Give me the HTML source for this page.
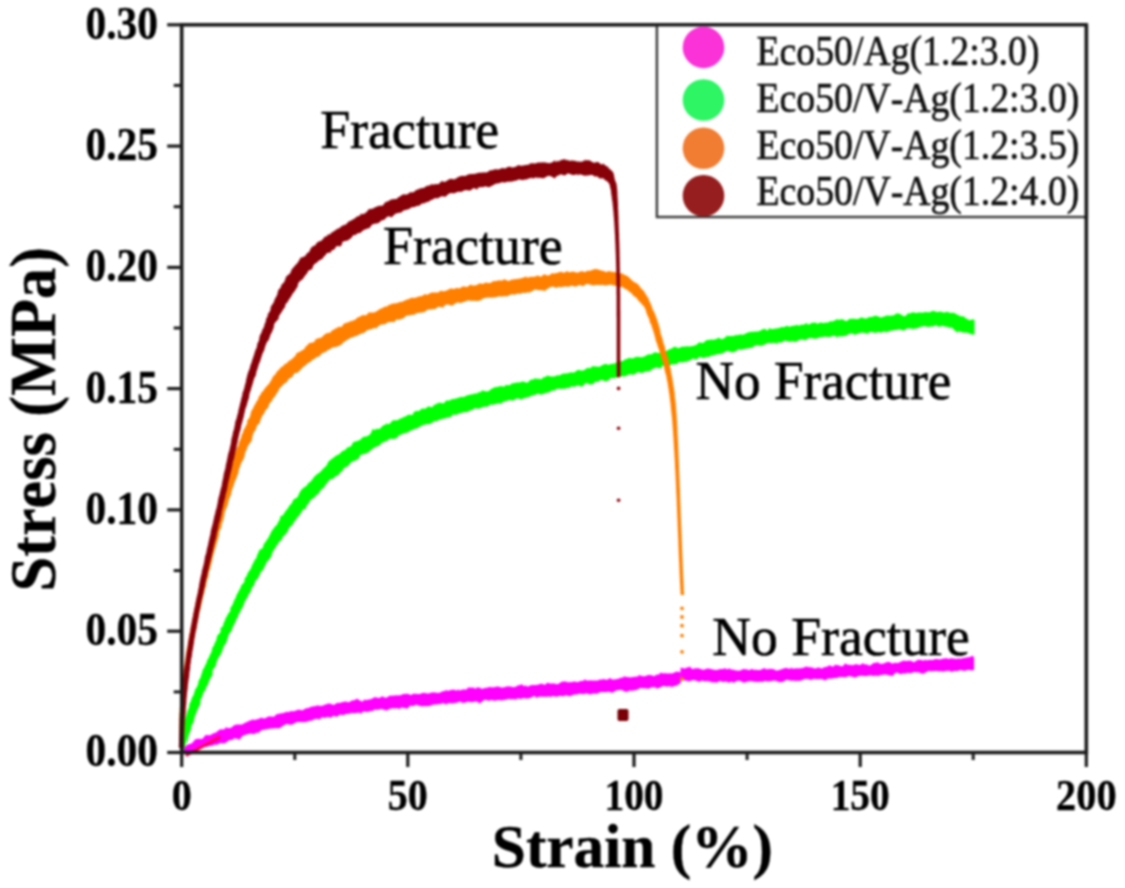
<!DOCTYPE html>
<html><head><meta charset="utf-8"><title>Stress-Strain</title>
<style>html,body{margin:0;padding:0;background:#fff}svg{display:block;font-kerning:none;filter:blur(0.8px)}</style></head>
<body>
<svg width="1125" height="888" viewBox="0 0 1125 888" font-family="'Liberation Serif', 'Times New Roman', serif">
<rect width="1125" height="888" fill="#fff"/>
<polygon points="181.4,749.1 182.2,748.5 183.0,747.9 183.9,747.3 184.8,746.9 185.6,746.3 186.4,745.6 187.2,744.9 188.2,744.5 189.1,744.0 190.1,743.9 191.1,743.7 191.9,743.1 192.8,742.5 193.5,741.5 194.2,740.6 195.0,739.8 195.8,739.1 196.8,738.9 197.9,739.0 198.8,738.4 200.1,739.1 201.2,739.1 202.1,738.7 203.0,738.2 203.8,737.3 204.4,736.3 205.2,735.4 206.2,735.1 207.2,735.0 208.4,735.2 209.5,735.3 210.4,735.0 211.3,734.5 212.2,733.9 213.1,733.6 214.0,733.1 215.0,732.9 215.9,732.4 216.8,731.8 217.7,731.2 218.5,730.6 219.4,729.8 220.2,729.3 221.3,729.4 222.4,729.3 223.4,729.4 224.4,728.9 225.3,728.5 225.8,726.8 227.2,728.0 228.3,728.0 229.4,728.1 230.4,728.0 231.3,727.5 232.2,726.9 233.0,726.1 233.9,725.5 234.8,724.9 235.8,724.7 236.7,724.4 237.8,724.5 238.9,724.5 239.9,724.6 241.0,724.6 242.0,724.6 242.9,723.9 243.8,723.5 244.7,722.9 245.7,722.6 246.6,722.1 247.6,721.8 248.5,721.5 249.2,720.2 250.4,720.7 251.3,720.2 252.2,719.6 253.2,719.5 254.4,720.0 255.5,720.1 256.2,719.1 257.4,719.6 258.3,719.0 259.2,718.5 260.2,718.3 261.0,717.5 262.2,717.9 263.3,718.2 264.4,718.4 265.4,718.1 266.3,717.7 267.2,717.1 268.1,716.7 269.1,716.3 270.1,716.5 271.2,716.4 272.3,716.6 273.3,716.7 274.3,716.4 275.1,715.5 276.0,714.8 276.9,714.3 277.8,713.8 278.9,713.9 279.8,713.6 280.8,713.3 281.8,713.3 282.9,713.2 283.8,712.8 284.7,712.4 285.7,712.2 286.7,711.8 287.7,712.0 288.8,712.0 289.8,711.7 290.6,710.8 291.8,711.5 292.7,711.1 293.8,711.2 294.8,711.1 295.7,710.6 296.7,710.2 297.6,709.9 298.6,709.6 299.6,709.8 300.7,710.1 301.8,710.2 302.8,710.3 303.7,709.6 304.6,708.9 305.6,708.5 306.5,708.3 307.5,708.1 308.5,708.1 309.5,707.5 310.4,707.0 311.4,706.7 312.4,706.6 313.3,706.3 314.4,706.2 315.4,706.1 316.4,705.9 317.2,704.9 318.4,705.7 319.4,705.7 320.4,705.8 321.5,706.0 322.4,705.6 323.4,705.5 324.3,704.8 325.3,704.5 326.3,704.3 327.3,704.1 328.2,703.6 329.2,703.6 330.3,703.7 331.4,704.1 332.5,704.6 333.5,705.0 334.5,704.6 335.4,703.9 336.3,703.3 337.3,702.9 338.3,702.8 339.3,702.9 340.3,702.7 341.3,702.4 342.3,702.1 343.2,701.9 344.2,701.7 345.2,701.5 346.2,701.5 347.3,702.0 348.4,702.2 349.4,702.1 350.3,701.6 351.2,700.7 352.2,700.4 353.2,700.3 354.2,700.2 355.1,699.8 356.1,699.5 357.0,698.2 358.1,699.5 359.2,700.0 360.4,700.8 361.4,701.2 362.5,701.4 363.4,701.1 364.2,699.1 365.3,700.3 366.3,700.0 367.3,699.8 368.3,699.4 369.3,699.5 370.3,699.3 371.3,699.1 372.2,698.5 373.2,698.0 374.1,697.4 375.1,697.1 376.1,697.5 377.2,697.6 378.2,698.1 379.2,698.0 380.2,697.5 381.1,696.7 382.1,696.5 383.1,696.6 384.2,697.2 385.3,697.7 386.3,697.7 387.2,697.1 388.2,696.7 389.1,696.1 390.1,695.6 391.1,695.7 392.1,695.7 393.1,695.4 394.1,695.5 395.1,695.5 396.1,695.3 397.1,695.3 398.1,695.5 399.1,695.3 400.1,695.3 401.1,695.0 402.1,694.4 403.0,694.1 404.1,694.1 405.1,694.0 406.0,693.7 407.0,693.8 408.1,694.1 409.1,694.0 410.2,694.9 411.2,694.9 412.1,694.2 413.1,693.7 414.1,693.7 415.1,693.7 416.1,693.8 417.2,694.0 418.2,694.0 419.2,694.1 420.2,694.0 421.1,693.6 422.1,693.1 423.1,692.9 424.1,692.7 425.1,693.0 426.2,693.3 427.2,693.4 428.2,693.3 429.2,693.4 430.2,693.0 431.1,692.6 432.1,692.4 433.1,692.5 434.1,692.3 435.1,692.6 436.2,692.7 437.2,692.8 438.2,693.0 439.2,692.8 440.2,692.4 441.1,691.9 442.1,691.5 443.1,691.1 444.1,691.2 445.1,691.1 446.0,689.5 447.1,691.0 448.1,690.6 449.1,690.6 450.1,690.6 451.0,689.5 452.0,690.1 453.0,689.7 454.0,689.5 455.0,690.0 456.1,690.4 457.1,690.5 458.0,689.1 459.1,690.4 460.1,690.2 461.1,690.1 462.1,689.7 463.0,689.3 464.0,689.4 465.1,689.6 466.1,689.6 467.1,689.3 467.9,687.1 469.0,687.9 469.9,687.6 470.9,687.4 472.0,687.6 473.0,688.0 473.9,687.3 475.0,688.7 476.0,688.6 476.9,687.2 478.0,687.3 479.0,687.9 480.0,687.3 481.1,688.8 482.1,688.8 483.1,688.6 484.0,688.3 485.0,688.1 486.0,687.7 487.0,687.8 488.0,687.5 489.0,687.1 490.0,687.0 491.0,687.2 492.0,687.3 493.0,687.3 494.0,687.3 495.0,687.0 496.0,686.7 497.0,686.5 498.0,686.6 499.0,686.8 500.0,687.0 501.0,687.4 502.1,687.6 503.0,687.4 504.0,687.2 505.0,687.1 506.0,686.8 507.0,686.3 508.0,686.4 509.0,686.2 510.0,686.5 511.0,686.5 512.0,687.0 513.1,687.1 514.1,687.3 515.0,686.8 516.0,686.5 517.0,686.3 517.9,685.0 519.0,685.5 519.9,684.9 520.9,684.7 521.9,683.9 523.0,685.4 524.0,686.1 525.0,685.8 526.0,685.2 527.1,686.6 528.0,686.5 529.0,686.0 530.0,685.5 531.0,685.3 532.0,685.0 533.0,685.0 534.0,685.1 535.0,685.1 536.0,685.0 537.0,684.9 537.9,684.5 538.9,684.4 539.9,684.1 540.9,683.8 541.9,683.8 542.9,684.0 544.0,684.6 545.0,684.7 545.9,684.3 546.8,682.7 547.9,683.0 548.9,683.1 549.9,683.4 550.9,683.7 551.9,683.3 552.9,683.5 553.9,683.5 554.9,683.6 555.9,683.9 556.9,684.2 557.9,684.0 558.9,683.6 559.9,683.1 560.8,682.2 561.8,681.7 562.8,681.5 563.8,681.5 564.8,681.5 565.8,681.5 566.8,681.7 567.8,682.2 568.8,682.5 569.8,681.4 570.8,682.5 571.8,682.0 572.8,681.8 573.8,681.6 574.8,681.6 575.8,681.8 576.8,682.1 577.8,681.9 578.8,681.8 579.8,681.2 580.8,681.0 581.7,680.7 582.7,680.9 583.7,680.7 584.6,679.1 585.7,680.2 586.7,680.4 587.7,680.5 588.7,680.4 589.7,680.5 590.7,680.3 591.7,680.4 592.7,680.6 593.7,680.6 594.7,680.6 595.7,680.5 596.7,680.6 597.7,680.4 598.7,680.3 599.6,679.2 600.7,679.8 601.7,679.5 602.7,679.5 603.6,678.7 604.7,679.6 605.7,679.7 606.6,679.4 607.6,679.4 608.6,679.2 609.5,678.1 610.6,678.3 611.7,679.5 612.6,679.2 613.7,679.4 614.7,679.6 615.7,679.3 616.6,679.1 617.6,678.9 618.6,678.6 619.6,678.2 620.5,678.0 621.5,677.5 622.5,677.4 623.5,677.5 624.3,675.8 625.5,677.1 626.5,677.0 627.5,677.0 628.5,677.1 629.5,677.4 630.5,677.3 631.5,677.3 632.5,677.1 633.5,677.0 634.4,676.8 635.4,676.8 636.4,676.6 637.4,676.5 638.4,676.3 639.2,674.6 640.3,675.7 641.3,675.7 642.4,675.9 643.4,676.3 644.4,676.3 645.4,676.0 646.4,675.7 647.3,675.2 648.3,675.0 649.3,675.0 650.3,675.0 651.3,675.2 652.4,675.6 653.4,675.9 654.4,675.9 655.3,675.4 656.3,674.8 657.2,674.5 658.2,674.4 659.2,674.5 660.1,673.1 661.0,672.4 662.1,673.3 663.1,673.3 664.1,673.4 665.1,672.8 666.1,673.4 667.1,673.4 668.1,673.2 669.1,673.4 670.1,673.3 671.2,673.4 672.1,673.3 673.1,673.3 674.1,672.6 675.1,672.2 676.1,671.7 677.2,671.6 678.4,671.9 679.6,672.0 680.8,672.0 680.8,683.5 680.0,683.6 679.1,683.8 678.3,684.3 677.5,685.8 676.5,685.3 675.6,685.7 674.7,686.0 673.7,686.2 672.7,686.3 671.8,687.7 670.7,686.3 669.6,686.2 668.6,686.2 667.7,686.6 666.6,686.5 665.6,686.5 664.6,686.0 663.5,685.9 662.6,686.1 661.6,686.8 660.7,687.2 659.7,687.5 658.7,687.9 657.7,688.1 656.8,688.9 655.6,687.5 654.6,686.8 653.6,687.8 652.5,686.9 651.6,687.3 650.6,687.8 649.7,688.3 648.7,688.5 647.7,688.7 646.6,688.4 645.6,688.2 644.6,688.2 643.6,688.2 642.6,688.2 641.6,688.0 640.5,687.9 639.6,688.3 638.6,688.9 637.7,689.4 636.7,689.8 635.7,690.1 634.7,690.4 633.7,690.3 632.7,690.3 631.8,691.5 630.7,690.3 629.7,690.6 628.8,691.1 627.8,691.5 626.8,691.8 625.8,691.8 624.8,691.6 623.7,691.0 622.6,690.4 621.6,690.0 620.6,689.7 619.6,689.9 618.6,690.1 617.6,690.3 616.6,690.5 615.6,690.8 614.7,691.2 613.7,691.9 612.8,692.5 611.8,692.7 610.7,692.3 609.7,691.9 608.7,691.8 607.7,691.8 606.7,692.0 605.7,692.2 604.7,692.0 603.7,692.1 602.7,692.3 601.7,692.1 600.7,692.1 599.7,692.4 598.7,692.8 597.8,693.5 596.8,693.8 595.8,693.6 594.8,693.7 593.7,693.4 592.7,693.5 591.8,693.9 590.8,694.2 589.8,694.3 588.8,694.2 587.7,693.6 586.7,693.5 585.7,693.4 584.7,693.8 583.7,694.1 582.7,694.2 581.7,693.7 580.7,693.7 579.7,693.7 578.7,693.8 577.7,694.2 576.7,694.5 575.7,694.6 574.7,694.6 573.7,694.8 572.7,694.9 571.8,695.4 570.8,695.8 569.8,696.2 568.8,696.0 567.8,695.7 566.8,695.4 565.7,695.3 564.8,695.7 563.8,696.1 562.8,696.3 561.8,696.0 560.8,695.9 559.8,695.7 558.8,696.1 557.8,696.5 556.8,696.7 555.8,696.3 554.8,696.9 553.8,696.1 552.8,696.1 551.8,696.3 550.8,697.4 549.8,696.2 548.8,696.6 547.8,696.7 546.8,696.8 545.8,696.8 544.8,696.8 543.8,696.8 542.8,696.8 541.8,696.7 540.8,696.6 539.8,696.8 538.8,696.9 537.8,696.8 536.8,697.9 535.8,697.6 534.7,695.9 533.7,696.1 532.8,696.9 531.8,696.9 530.8,697.7 529.8,698.0 528.8,698.3 527.8,698.5 526.9,698.6 525.8,698.4 524.8,698.3 523.8,698.1 522.8,698.3 521.8,698.5 520.9,698.9 519.8,698.7 518.8,698.4 517.8,698.5 516.8,698.5 515.9,699.9 514.9,699.3 513.9,699.3 512.9,699.1 511.9,699.2 510.9,699.7 509.8,698.8 508.8,699.1 507.9,699.2 506.9,699.3 505.9,699.7 504.9,699.8 503.9,700.0 502.9,700.2 501.9,700.2 500.9,700.2 499.9,700.2 498.9,700.0 497.9,699.9 496.9,700.2 495.9,700.6 494.9,700.8 493.9,700.6 492.9,700.4 491.9,700.0 490.9,700.0 489.9,700.4 488.9,700.7 487.9,700.4 486.9,700.2 485.9,699.8 484.9,699.7 483.9,700.2 482.9,701.0 482.0,701.7 481.0,702.2 480.1,703.5 479.1,703.5 478.0,702.1 477.0,701.8 476.0,701.4 475.0,701.5 474.0,701.8 473.0,702.0 472.0,702.1 471.0,702.2 470.0,701.9 469.0,701.7 468.0,701.8 467.0,701.7 466.0,702.2 465.1,702.7 464.1,702.8 463.0,702.6 462.1,703.6 461.0,701.7 460.0,701.5 459.0,701.9 458.0,702.3 457.0,702.8 456.0,702.8 455.1,703.0 454.1,703.2 453.1,703.3 452.1,703.5 451.1,703.5 450.1,703.0 449.1,702.9 448.1,703.8 447.1,703.2 446.2,704.8 445.1,704.0 444.1,703.6 443.1,703.3 442.1,703.1 441.2,704.6 440.1,703.6 439.1,704.2 438.1,704.2 437.2,704.3 436.2,704.4 435.2,704.6 434.2,704.5 433.2,704.7 432.2,705.1 431.2,705.3 430.3,705.7 429.3,705.9 428.3,706.0 427.3,706.0 426.3,706.2 425.3,706.3 424.3,706.1 423.3,706.1 422.3,706.4 421.3,706.2 420.3,706.0 419.3,705.6 418.3,706.0 417.2,704.8 416.2,704.8 415.2,705.2 414.2,705.6 413.3,706.0 412.3,705.9 411.3,705.8 410.3,705.8 409.3,706.6 408.4,707.5 407.5,708.4 406.5,708.7 405.5,708.1 404.4,707.7 403.5,708.5 402.4,707.2 401.4,707.4 400.4,707.9 399.6,709.4 398.5,708.3 397.5,708.4 396.5,708.3 395.4,707.9 394.5,708.9 393.5,708.1 392.5,708.2 391.5,708.5 390.5,708.7 389.5,708.8 388.6,709.5 387.7,710.1 386.7,710.4 385.7,710.2 384.6,709.7 383.6,709.9 382.5,709.1 381.5,709.1 380.5,709.1 379.6,709.4 378.6,709.6 377.6,709.7 376.6,709.8 375.6,709.8 374.6,709.6 373.6,709.9 372.8,711.6 371.7,710.7 370.7,711.0 369.8,711.4 368.8,711.6 367.8,711.8 366.8,712.0 365.8,711.8 364.8,711.5 363.8,711.6 362.8,712.0 361.9,712.3 361.1,714.3 359.9,712.8 358.9,712.8 357.9,712.7 357.0,713.0 355.9,712.9 355.0,713.2 354.0,713.2 353.0,713.2 351.9,712.9 351.0,713.3 350.0,713.5 349.0,713.8 348.0,713.8 347.0,713.9 346.0,713.9 345.1,714.3 344.2,714.8 343.2,715.2 342.2,715.1 341.1,714.8 340.1,714.8 339.2,715.0 338.3,715.7 337.4,716.5 336.4,716.7 335.3,716.4 334.3,716.1 333.2,715.8 332.4,716.7 331.4,716.9 330.6,717.9 329.5,717.3 328.4,717.3 327.4,717.0 326.4,717.3 325.5,717.7 324.5,717.7 323.5,717.5 322.4,717.4 321.4,717.3 320.7,719.3 319.6,718.4 318.9,720.1 317.6,718.8 316.6,718.8 315.6,718.9 314.7,719.3 313.7,719.5 312.8,719.8 311.9,720.9 310.8,720.4 309.9,720.7 309.0,721.1 308.0,721.4 307.0,721.4 306.1,721.8 305.1,722.3 304.1,721.9 303.1,722.0 302.1,722.3 301.1,722.1 300.1,722.1 299.0,722.0 298.0,722.1 297.0,721.9 296.1,722.4 295.1,722.9 294.2,723.3 293.3,723.9 292.4,724.4 291.5,724.6 290.5,724.7 289.5,724.7 288.3,724.3 287.3,724.1 286.3,724.1 285.4,724.7 284.4,725.0 283.5,725.6 282.7,726.1 281.8,726.8 280.9,727.3 280.0,728.0 279.1,728.2 278.1,728.3 277.0,728.2 276.0,728.2 275.0,728.2 274.0,728.2 273.0,728.4 272.0,728.5 271.0,728.6 270.0,728.8 269.0,728.8 268.0,729.0 267.1,729.2 266.1,729.4 265.1,729.5 264.1,729.7 263.1,729.8 262.2,730.0 261.2,730.4 260.4,730.9 259.5,731.8 258.8,732.9 257.8,732.7 256.8,732.8 255.8,733.1 254.9,733.7 254.0,734.1 252.9,733.9 251.9,733.7 250.8,733.6 249.8,733.7 248.8,733.9 247.9,734.1 246.9,734.4 246.0,734.7 245.0,735.1 244.1,735.3 243.2,735.7 242.3,736.1 241.5,737.2 240.8,738.1 240.0,738.9 239.4,740.3 238.0,739.0 236.8,738.5 235.9,739.0 234.6,738.1 233.7,738.7 232.9,739.4 232.0,739.9 231.0,740.0 230.0,740.0 229.0,740.3 228.2,740.9 227.4,741.6 226.5,742.2 225.7,742.8 224.8,743.2 223.8,743.3 222.8,743.4 221.7,743.2 220.6,743.1 219.6,743.3 218.8,744.0 217.8,744.3 217.0,744.8 215.9,744.8 214.9,744.7 213.9,744.8 213.0,745.5 212.1,745.7 211.0,745.8 210.0,745.9 209.0,746.1 208.1,746.3 207.2,746.8 206.2,747.0 205.1,746.8 204.0,746.8 203.0,746.9 202.0,747.0 201.1,747.5 200.3,748.2 199.5,748.9 198.8,749.7 197.9,750.1 197.1,750.9 195.8,750.3 194.9,750.6 193.9,750.8 192.9,750.9 191.8,751.1 190.9,751.3 189.9,751.6 188.9,751.8 188.2,752.6 187.0,752.2 186.0,752.5 185.0,752.7 184.0,752.8 182.9,752.9" fill="#ff00ff"/>
<polygon points="680.5,667.7 681.6,667.8 682.6,668.1 683.7,668.2 684.7,668.4 685.8,668.2 686.8,667.6 687.8,667.3 688.8,667.4 689.9,666.2 690.8,667.7 691.8,668.4 692.7,669.0 693.7,669.3 694.8,667.6 695.7,668.7 696.7,668.3 697.7,668.1 698.7,668.3 699.7,668.7 700.7,669.0 701.7,669.2 702.6,669.7 703.6,669.7 704.6,669.4 705.6,668.9 706.6,668.7 707.6,668.4 708.6,668.5 709.6,668.7 710.6,669.0 711.6,669.0 712.6,669.4 713.6,669.8 714.6,669.7 715.6,669.9 716.5,669.9 717.5,669.8 718.5,669.4 719.5,669.3 720.5,669.1 721.5,668.9 722.5,668.9 723.5,669.0 724.5,668.2 725.5,668.3 726.5,669.4 727.5,669.0 728.5,668.9 729.5,668.1 730.5,669.4 731.5,669.4 732.5,669.5 733.4,669.7 734.4,670.1 735.4,670.3 736.4,670.5 737.4,670.5 738.4,670.7 739.4,670.6 740.4,670.6 741.4,669.9 742.4,669.3 743.4,669.1 744.4,669.2 745.4,669.2 746.4,669.3 747.4,669.5 748.4,670.0 749.4,670.3 750.4,669.4 751.3,669.1 752.3,669.0 753.3,669.7 754.3,669.8 755.3,669.8 756.3,669.7 757.3,670.1 758.3,670.1 759.3,670.0 760.3,670.1 761.3,669.6 762.3,668.9 763.3,668.6 764.3,668.3 765.3,668.6 766.3,669.2 767.3,669.4 768.2,668.5 769.3,669.5 770.2,668.4 771.2,669.1 772.2,669.1 773.2,669.1 774.2,669.4 775.3,669.9 776.3,670.4 777.3,670.6 778.3,670.3 779.2,669.9 780.2,669.8 781.2,669.2 782.2,669.0 783.2,668.7 784.2,668.3 785.2,667.9 786.2,668.1 787.2,668.1 788.2,668.5 789.2,668.7 790.2,668.7 791.1,667.2 792.2,668.7 793.1,668.5 794.1,668.4 795.1,668.5 796.1,668.2 797.1,668.2 798.1,668.4 799.1,668.2 800.1,668.2 801.1,668.3 802.1,667.9 803.1,667.8 804.1,667.6 805.1,667.0 806.0,666.6 807.0,666.7 808.0,667.1 809.1,667.5 810.0,666.7 811.1,667.5 812.1,667.4 813.1,667.7 814.1,668.3 815.1,668.5 816.1,668.2 817.1,667.8 818.1,667.6 819.1,667.6 820.1,668.0 821.1,668.3 822.1,668.4 823.1,667.8 824.0,667.3 825.0,667.0 826.0,666.9 827.0,666.5 828.0,666.2 828.9,665.6 829.9,665.4 831.0,665.8 832.0,666.4 833.0,666.5 834.0,666.2 834.9,664.3 835.9,665.3 836.9,665.1 837.9,665.1 838.9,665.4 839.9,665.7 841.0,666.3 842.0,666.3 843.0,665.9 843.9,665.0 844.8,663.2 845.8,664.0 846.9,664.2 847.9,664.4 848.9,664.9 849.9,665.1 850.9,664.5 851.9,665.4 852.9,665.0 853.9,664.7 854.9,664.5 855.9,664.2 856.8,663.9 857.9,664.8 858.9,664.8 859.9,664.9 860.9,664.6 861.8,663.9 862.8,663.0 863.9,663.9 864.9,664.2 865.9,664.6 866.9,664.3 867.9,665.1 869.0,665.4 870.0,665.4 870.9,664.9 871.9,664.2 872.8,663.6 873.8,663.1 874.8,662.8 875.8,662.8 876.8,662.8 877.7,661.7 878.8,663.2 879.9,663.5 880.9,663.8 881.9,663.9 882.9,663.6 883.9,663.4 884.8,663.0 885.8,662.5 886.8,662.3 887.8,662.0 888.8,661.9 889.8,662.1 890.8,662.9 891.9,663.3 892.9,663.4 893.9,663.1 894.8,662.7 895.8,662.7 896.9,662.9 897.9,662.9 898.8,662.5 899.8,662.3 900.8,661.7 901.8,661.3 902.7,661.0 903.7,660.4 904.7,660.8 905.8,661.1 906.8,661.0 907.7,660.7 908.7,660.8 909.7,660.6 910.8,660.9 911.8,660.8 912.8,661.9 913.8,662.0 914.8,662.0 915.8,660.4 916.8,661.2 917.7,659.3 918.7,660.1 919.7,659.8 920.7,659.9 921.7,660.1 922.8,660.6 923.8,660.8 924.7,659.5 925.8,660.0 926.8,660.4 927.8,660.0 928.8,659.8 929.8,659.9 930.8,659.7 931.8,660.1 932.8,659.9 933.8,659.5 934.8,659.3 935.7,659.1 936.7,658.9 937.8,659.2 938.8,659.3 939.8,659.4 940.8,659.2 941.8,659.0 942.7,658.7 943.7,658.4 944.7,658.4 945.7,658.2 946.7,658.2 947.8,658.5 948.8,659.1 949.8,658.9 950.7,657.7 951.8,658.4 952.8,658.6 953.8,658.8 954.8,658.2 955.8,659.3 956.8,658.8 957.8,658.4 958.8,658.4 959.8,658.4 960.8,658.7 961.8,658.6 962.8,657.9 963.8,658.0 964.8,657.9 965.8,657.5 966.8,657.4 967.8,657.2 968.8,657.2 969.8,656.9 970.9,656.7 971.9,655.4 973.0,656.4 974.1,656.7 974.1,669.8 973.1,670.1 972.2,670.2 971.3,670.4 970.3,670.1 969.3,670.1 968.3,669.7 967.4,670.0 966.4,670.3 965.4,670.7 964.4,670.7 963.4,670.7 962.4,670.4 961.4,670.3 960.4,670.1 959.4,670.3 958.4,670.4 957.5,671.6 956.4,670.8 955.4,671.1 954.4,670.9 953.4,671.2 952.4,671.2 951.5,672.3 950.4,671.2 949.4,670.8 948.4,670.4 947.5,671.6 946.4,670.4 945.4,671.1 944.5,671.6 943.5,671.5 942.5,671.5 941.5,671.3 940.5,671.2 939.5,671.2 938.5,671.4 937.4,671.1 936.4,670.9 935.4,670.9 934.5,671.1 933.5,671.2 932.5,671.2 931.4,671.0 930.5,671.7 929.4,670.8 928.5,671.1 927.5,671.4 926.5,672.0 925.5,672.6 924.6,673.2 923.6,673.5 922.6,673.8 921.6,673.5 920.6,673.2 919.5,672.7 918.5,672.3 917.5,672.0 916.6,672.8 915.5,672.0 914.5,672.1 913.5,672.2 912.5,672.6 911.6,672.9 910.6,673.3 909.6,673.2 908.5,672.9 907.5,672.8 906.6,673.0 905.6,674.0 904.6,673.3 903.6,673.6 902.6,673.6 901.6,674.1 900.6,674.1 899.6,673.9 898.6,673.3 897.5,672.8 896.5,672.6 895.5,673.0 894.6,673.8 893.6,674.7 892.7,676.0 891.7,675.8 890.7,675.8 889.7,675.5 888.7,675.3 887.6,674.9 886.6,674.8 885.6,674.5 884.6,674.6 883.6,674.8 882.6,674.8 881.6,674.9 880.7,675.2 879.7,675.2 878.7,675.4 877.7,676.4 876.7,675.5 875.7,675.6 874.7,675.8 873.7,675.9 872.7,675.7 871.7,675.5 870.6,675.5 869.6,675.4 868.6,675.5 867.7,675.7 866.7,675.9 865.7,676.1 864.7,675.9 863.7,675.9 862.6,675.8 861.6,675.7 860.6,675.8 859.6,675.9 858.6,675.8 857.7,676.5 856.7,676.9 855.7,677.0 854.8,678.1 853.7,677.0 852.7,676.9 851.7,676.6 850.6,676.4 849.6,676.0 848.6,676.0 847.6,676.4 846.7,677.0 845.7,677.3 844.7,677.2 843.7,677.3 842.7,677.1 841.7,677.1 840.7,677.2 839.7,677.1 838.7,677.3 837.7,677.6 836.7,678.1 835.7,678.1 834.7,678.1 833.7,678.1 832.7,678.4 831.7,678.6 830.7,678.8 829.7,678.5 828.7,678.5 827.7,678.8 826.7,679.4 825.8,680.1 824.8,680.4 823.8,679.8 822.7,679.5 821.7,678.9 820.7,678.9 819.7,679.1 818.7,679.3 817.7,679.2 816.7,679.0 815.7,679.5 814.6,678.4 813.7,679.3 812.7,679.1 811.7,679.7 810.7,679.9 809.7,679.6 808.7,679.3 807.7,679.1 806.6,679.0 805.6,678.9 804.6,679.1 803.6,679.2 802.7,679.9 801.7,680.3 800.7,680.5 799.7,680.7 798.7,680.9 797.7,680.7 796.7,680.5 795.7,681.6 794.7,680.4 793.7,680.5 792.7,680.7 791.7,680.8 790.7,680.6 789.6,680.4 788.6,680.2 787.6,679.8 786.6,679.7 785.6,680.3 784.6,680.7 783.7,681.4 782.7,681.8 781.7,682.0 780.7,682.1 779.7,682.2 778.6,681.7 777.6,681.6 776.6,681.3 775.6,680.8 774.6,680.6 773.6,680.8 772.6,680.8 771.6,681.0 770.6,681.3 769.6,681.3 768.6,681.5 767.6,681.6 766.6,681.3 765.6,681.0 764.6,681.1 763.6,681.4 762.6,681.7 761.6,681.7 760.5,681.7 759.5,681.7 758.5,681.8 757.5,681.9 756.5,681.8 755.5,681.7 754.5,681.7 753.5,681.6 752.5,681.4 751.5,681.3 750.5,681.0 749.5,681.2 748.5,681.4 747.5,681.5 746.5,681.8 745.5,682.3 744.5,682.5 743.5,682.4 742.5,682.2 741.4,681.4 740.4,680.9 739.4,680.7 738.4,680.7 737.4,680.7 736.4,681.2 735.4,681.7 734.4,682.0 733.4,683.2 732.4,681.8 731.4,681.8 730.4,682.1 729.4,682.6 728.4,682.6 727.4,682.2 726.4,681.5 725.4,681.5 724.3,681.7 723.3,681.9 722.3,681.8 721.3,681.4 720.3,681.1 719.3,681.1 718.3,681.9 717.3,682.2 716.3,682.5 715.3,682.5 714.3,682.2 713.3,682.2 712.3,682.3 711.2,682.5 710.3,681.4 709.3,681.1 708.2,682.0 707.3,680.7 706.2,681.2 705.2,681.3 704.2,681.3 703.2,681.0 702.2,680.6 701.2,680.8 700.2,681.4 699.2,681.8 698.2,681.7 697.2,681.1 696.2,680.8 695.2,680.4 694.2,680.1 693.2,680.1 692.2,680.4 691.2,680.4 690.1,681.0 689.1,681.4 688.1,681.2 687.1,680.7 686.1,680.4 685.1,681.0 684.2,679.5 683.3,679.3 682.3,679.3 681.4,679.3 680.5,679.5" fill="#ff00ff"/>
<line x1="187" y1="755" x2="219" y2="737.5" stroke="#ff0055" stroke-width="3" stroke-linecap="round"/>
<polygon points="180.9,750.3 180.9,749.2 180.9,748.2 180.9,747.2 180.9,746.2 180.9,745.1 180.9,744.1 181.0,743.1 181.0,742.1 181.1,741.1 181.1,740.0 181.2,739.0 181.3,738.0 181.4,737.0 181.7,736.0 181.6,734.9 182.3,734.1 182.4,733.1 182.6,732.0 182.6,731.0 182.7,730.0 182.9,729.0 182.9,727.9 183.4,727.0 183.7,726.0 183.8,725.0 184.0,724.0 184.2,723.0 184.0,721.9 184.6,721.0 184.9,720.1 185.0,719.0 185.4,718.1 185.5,717.1 185.9,716.1 186.3,715.2 186.6,714.2 186.9,713.2 187.2,712.3 187.4,711.3 187.7,710.3 188.2,709.4 188.6,708.5 189.0,707.5 189.2,706.5 189.4,705.5 189.1,704.3 189.9,703.6 190.2,702.6 190.6,701.7 191.0,700.7 191.3,699.8 191.6,698.8 192.0,697.9 192.3,696.9 192.9,696.1 193.5,695.2 193.8,694.2 194.1,693.3 194.3,692.2 194.6,691.3 195.0,690.4 195.1,689.3 196.0,688.6 196.5,687.7 196.9,686.8 197.3,685.9 197.8,685.0 198.0,684.0 198.3,683.0 198.4,682.0 198.6,681.0 199.0,680.0 199.6,679.2 200.1,678.3 200.5,677.4 200.8,676.4 201.0,675.4 201.4,674.5 201.8,673.6 202.1,672.6 202.3,671.6 202.5,670.6 202.9,669.7 203.4,668.8 204.0,668.0 204.5,667.1 205.0,666.2 204.9,665.1 205.8,664.4 206.2,663.4 206.6,662.5 206.8,661.5 207.1,660.6 207.5,659.6 208.1,658.8 208.7,658.0 209.1,657.0 209.4,656.1 209.7,655.1 210.3,654.3 210.7,653.4 211.2,652.5 211.5,651.6 211.9,650.6 212.1,649.6 212.0,648.5 212.5,647.6 213.0,646.7 213.7,645.9 214.1,645.0 214.4,644.1 214.7,643.1 215.2,642.2 215.7,641.3 216.1,640.5 216.4,639.5 216.6,638.4 216.8,637.4 217.0,636.5 217.4,635.5 218.0,634.7 218.8,634.0 219.6,633.2 220.2,632.4 220.5,631.4 220.6,630.4 220.6,629.3 220.4,628.1 221.5,627.5 222.3,626.7 222.9,625.9 223.3,625.0 223.4,623.9 223.6,622.9 224.1,622.0 224.6,621.2 225.0,620.2 225.3,619.3 225.6,618.3 226.1,617.4 226.7,616.6 227.2,615.7 227.6,614.8 228.0,613.9 228.6,613.0 229.3,612.3 230.0,611.5 230.3,610.5 230.5,609.5 229.9,608.1 230.9,607.4 231.4,606.6 231.9,605.7 232.4,604.8 232.8,603.9 233.3,603.0 233.6,602.0 233.7,601.0 234.3,600.2 234.7,599.3 235.3,598.4 235.8,597.6 236.0,596.5 236.4,595.6 236.7,594.6 237.2,593.7 237.8,592.9 238.3,592.0 238.6,591.1 239.1,590.2 239.7,589.4 240.1,588.5 240.6,587.6 240.9,586.6 241.2,585.6 241.8,584.8 242.5,584.0 243.4,583.3 243.9,582.5 244.4,581.6 244.5,580.5 244.5,579.4 244.8,578.4 245.4,577.6 246.1,576.8 246.7,576.0 247.1,575.1 247.3,574.0 247.7,573.1 248.2,572.2 248.8,571.4 249.4,570.6 250.0,569.8 250.5,568.9 251.1,568.0 251.4,567.1 251.8,566.1 252.1,565.1 252.5,564.2 253.1,563.4 253.6,562.5 253.7,561.4 254.5,560.7 254.7,559.7 255.6,559.0 256.2,558.2 256.6,557.2 256.8,556.2 257.1,555.2 257.4,554.2 258.0,553.4 258.6,552.5 258.4,551.3 259.5,550.7 259.4,549.5 261.1,549.3 261.9,548.6 262.6,547.9 263.1,547.0 263.3,546.0 263.5,544.9 263.9,543.9 264.5,543.1 265.2,542.4 265.8,541.5 266.3,540.7 266.9,539.8 267.3,538.9 268.1,538.2 268.8,537.5 268.7,536.2 269.6,535.6 270.0,534.6 270.4,533.7 270.8,532.7 271.2,531.8 271.7,530.9 272.4,530.1 273.0,529.3 273.7,528.6 274.2,527.7 274.7,526.8 275.5,526.1 276.3,525.5 277.0,524.7 277.4,523.7 277.8,522.8 278.3,521.9 278.8,521.0 279.4,520.2 279.8,519.2 280.1,518.2 280.2,517.0 280.5,515.9 282.0,515.8 282.9,515.2 283.5,514.4 284.0,513.5 284.6,512.6 285.1,511.8 285.7,510.9 286.3,510.1 287.1,509.4 287.6,508.5 288.3,507.8 288.7,506.8 289.3,506.0 289.8,505.1 290.7,504.5 291.3,503.7 292.0,502.9 292.3,501.9 292.7,500.9 293.3,500.1 293.9,499.3 294.8,498.7 295.8,498.2 296.8,497.7 297.5,497.0 298.1,496.1 298.5,495.1 298.9,494.1 299.3,493.2 299.8,492.2 300.4,491.3 300.9,490.5 301.5,489.6 302.3,489.0 303.0,488.2 303.8,487.6 304.8,487.0 305.6,486.4 306.4,485.7 307.2,485.1 307.8,484.2 307.9,483.0 309.3,482.8 309.9,482.1 310.7,481.4 311.4,480.6 312.0,479.7 312.7,479.0 313.2,478.1 313.8,477.3 314.6,476.6 315.3,475.8 315.9,475.0 316.8,474.4 317.6,473.8 318.4,473.2 319.4,472.7 320.2,472.0 320.9,471.3 321.6,470.6 322.2,469.7 322.8,468.9 323.6,468.2 324.5,467.6 325.3,467.0 325.7,466.0 326.7,465.6 327.1,464.5 327.5,463.3 328.0,462.4 328.6,461.5 329.4,460.8 330.2,460.2 331.0,459.4 331.8,458.8 332.6,458.2 333.5,457.7 334.3,457.0 335.1,456.3 336.0,455.7 336.8,455.2 337.8,454.8 338.8,454.4 339.7,453.8 340.3,452.9 341.2,452.3 341.8,451.5 342.7,451.0 343.8,450.6 344.8,450.3 345.5,449.6 346.5,449.1 346.6,447.4 347.9,447.6 348.8,447.1 349.8,446.7 350.7,446.2 351.6,445.6 352.0,444.4 352.5,443.3 353.2,442.5 354.0,441.8 355.1,441.6 356.2,441.4 357.2,441.0 358.1,440.6 359.2,440.4 360.0,439.8 360.9,439.2 361.6,438.3 362.3,437.5 363.2,437.0 364.3,436.8 365.3,436.5 366.4,436.4 367.4,436.1 368.3,435.6 369.2,435.1 370.0,434.4 370.6,433.4 371.2,432.3 371.8,431.4 372.0,429.7 372.9,429.1 374.6,430.1 375.6,429.7 376.1,428.5 377.6,429.1 378.7,429.0 379.7,428.8 380.5,428.1 381.3,427.3 382.0,426.5 382.8,425.7 383.6,425.0 384.6,424.9 385.7,424.7 386.1,423.1 387.8,424.3 388.8,424.0 389.7,423.5 390.5,422.9 391.3,422.1 391.9,421.1 392.7,420.4 393.8,420.2 395.0,420.3 396.1,420.3 397.2,420.3 398.1,419.8 399.0,419.4 399.7,418.4 400.9,418.6 401.8,418.1 402.7,417.6 403.6,417.2 404.5,416.6 405.6,416.5 406.4,415.9 407.3,415.3 408.1,414.7 409.2,414.8 410.3,414.7 411.5,415.0 412.5,414.8 413.3,414.0 413.5,411.7 414.7,411.9 415.5,411.2 416.4,410.5 417.7,411.3 418.7,411.1 419.6,410.4 420.4,409.7 421.2,409.0 422.1,408.5 423.2,408.6 424.4,408.7 425.4,408.5 426.3,408.1 427.1,407.3 427.9,406.5 429.0,406.4 430.2,406.8 431.4,407.3 432.4,407.0 433.2,406.4 433.6,404.4 434.9,405.0 435.8,404.4 436.5,403.3 437.7,403.6 438.6,403.3 439.4,402.2 440.6,402.9 441.8,403.1 442.9,403.4 443.9,403.1 444.7,402.4 445.4,401.3 446.3,400.6 447.3,400.6 448.4,400.6 449.4,400.5 450.4,400.1 451.2,399.5 452.2,399.1 453.3,399.1 454.3,398.9 455.2,398.6 456.2,398.5 457.2,398.1 458.1,397.8 459.1,397.4 460.1,397.2 461.0,396.7 462.1,396.9 463.2,397.1 464.2,396.8 465.1,396.3 466.0,396.1 466.9,395.4 467.8,395.0 468.9,395.0 470.0,395.1 470.7,393.9 471.9,394.5 472.9,394.2 473.8,393.8 474.8,393.5 475.8,393.5 476.9,393.5 477.8,393.3 478.5,391.7 479.7,392.4 480.6,391.9 481.5,391.3 482.2,389.9 483.5,391.1 484.6,391.1 485.6,391.2 486.7,391.4 487.7,391.3 488.7,391.0 489.6,390.4 490.4,389.6 491.3,389.0 492.2,388.4 493.1,387.9 494.1,387.6 495.0,387.2 496.0,386.9 497.0,386.9 498.0,386.7 499.0,386.6 500.0,386.3 501.0,386.1 502.0,386.3 503.1,386.6 504.2,386.5 505.1,386.1 505.8,384.7 506.9,385.1 508.0,385.3 509.0,385.3 510.0,385.1 510.9,384.3 511.7,383.6 512.7,383.3 513.7,383.3 514.7,383.1 515.7,382.8 516.7,382.6 517.7,382.5 518.7,382.4 519.7,382.4 520.6,382.0 521.6,381.7 522.6,381.4 523.6,381.6 524.7,381.9 525.9,382.5 526.9,382.6 528.0,382.5 528.8,381.6 529.6,380.4 530.5,379.9 531.4,379.5 532.4,379.4 533.4,379.3 534.4,379.3 535.1,377.6 536.4,379.1 537.5,379.2 538.2,377.9 539.6,379.3 540.6,379.3 541.5,378.9 542.5,378.7 543.1,376.8 544.3,377.6 545.2,377.0 546.1,376.3 547.0,375.8 548.0,375.7 549.1,375.9 550.2,376.2 551.2,376.4 552.3,376.5 553.3,376.4 554.3,376.3 555.3,376.2 556.2,375.9 557.0,374.8 558.2,375.5 559.2,375.5 560.1,374.9 561.0,374.4 562.0,374.0 562.9,373.7 563.9,373.5 565.0,373.6 566.0,373.5 567.0,373.3 568.0,373.3 568.9,372.9 569.8,372.4 570.8,372.3 571.9,372.4 572.9,372.5 573.9,372.6 574.9,372.1 575.7,371.5 576.6,370.7 577.5,370.1 578.5,369.9 579.5,370.1 580.7,370.5 581.7,370.5 582.7,370.5 583.7,370.3 584.6,369.9 585.5,369.1 586.4,368.7 587.2,367.6 588.3,368.2 589.2,367.7 590.4,368.3 591.2,367.4 592.0,366.2 593.0,366.3 594.0,366.3 595.1,366.4 596.1,366.5 597.1,366.5 598.2,366.8 599.2,366.7 600.2,366.6 601.1,365.8 602.0,365.3 602.9,364.8 603.8,364.5 604.8,364.0 605.8,364.0 606.8,364.1 608.0,364.7 609.1,365.1 609.8,363.7 610.9,364.3 611.9,363.8 612.9,363.7 613.8,363.5 614.9,363.6 615.7,363.0 616.5,361.9 617.6,362.0 618.6,361.8 619.5,361.6 620.5,361.5 621.5,361.3 622.5,361.0 623.5,361.0 624.2,359.6 625.2,359.5 626.2,359.3 627.0,358.8 628.0,358.4 628.8,357.4 630.1,358.5 630.9,357.8 632.1,358.5 633.0,358.2 634.0,357.7 634.9,357.5 635.8,356.8 636.8,356.9 637.8,356.8 638.9,357.0 640.0,357.1 641.1,357.4 642.0,356.9 643.0,356.9 644.0,356.6 644.9,356.2 645.8,355.7 646.7,355.1 647.6,354.5 648.6,354.4 649.6,354.3 650.6,354.2 651.6,354.2 652.5,353.7 653.3,352.9 654.3,352.5 655.2,352.3 656.3,352.4 657.4,352.8 658.5,353.0 659.5,352.9 660.5,352.8 661.3,351.8 662.5,352.5 663.5,352.3 664.4,351.8 665.3,351.4 666.2,350.9 667.2,350.5 668.1,350.0 669.0,349.6 669.9,349.2 670.9,348.8 671.8,348.4 672.7,348.0 673.5,346.7 674.6,347.3 675.5,346.6 676.7,347.4 677.9,347.9 678.9,347.9 679.9,347.7 680.7,346.9 681.7,346.7 682.7,346.6 683.8,346.8 684.8,346.6 685.8,346.4 686.7,346.2 687.8,346.3 688.8,346.4 689.9,346.4 690.8,346.2 691.8,346.0 692.9,346.0 693.9,345.9 694.7,345.1 695.8,345.3 696.7,344.7 697.5,343.7 698.3,342.9 699.2,342.4 700.3,342.4 701.4,342.8 702.5,343.1 703.5,342.8 704.3,342.1 705.1,341.2 706.0,340.5 707.0,340.1 708.0,340.0 709.0,340.0 710.0,339.8 711.0,339.6 712.0,339.6 713.1,339.7 714.1,339.9 714.9,338.8 716.1,339.5 716.9,338.6 717.9,338.2 718.7,337.4 720.0,338.6 721.1,339.1 722.2,339.2 723.1,338.7 724.0,338.2 724.9,337.6 725.9,337.2 726.5,335.3 727.8,336.3 728.7,336.1 729.7,335.9 730.8,335.9 731.8,336.0 732.8,335.9 733.8,335.7 734.8,335.7 735.6,334.5 736.8,335.5 737.8,335.1 738.8,334.8 739.7,334.5 740.7,334.4 741.8,334.4 742.8,334.7 743.8,334.5 744.8,334.1 745.7,333.6 746.6,333.1 747.6,332.7 748.5,332.3 749.5,332.1 750.6,332.2 751.4,331.3 752.6,332.1 753.6,331.8 754.6,331.6 755.6,331.4 756.6,331.5 757.6,331.5 758.6,331.3 759.6,330.9 760.5,330.5 761.5,329.9 762.4,329.2 763.4,329.1 764.4,329.3 765.3,328.5 766.7,330.5 767.7,330.3 768.6,329.5 769.3,327.6 770.5,328.9 771.5,328.9 772.6,328.9 773.6,328.9 774.5,328.5 775.6,328.5 776.6,328.7 777.5,327.7 778.6,328.3 779.5,327.9 780.5,327.3 781.5,327.1 782.5,327.1 783.5,327.3 784.5,326.9 785.4,326.3 786.4,325.9 787.4,326.0 788.5,326.3 789.6,326.7 790.5,326.6 791.5,326.1 792.5,325.8 793.5,325.7 794.5,325.6 795.5,325.6 796.5,325.1 797.4,324.8 798.6,325.7 799.5,325.4 800.5,325.1 801.4,324.2 802.5,325.0 803.5,324.5 804.5,324.3 805.4,323.9 806.3,322.5 807.5,324.2 808.6,324.6 809.5,324.3 810.5,323.6 811.4,323.2 812.4,322.6 813.4,322.8 814.4,323.0 815.3,322.0 816.5,323.5 817.5,323.7 818.5,323.3 819.5,322.9 820.4,322.4 821.5,322.5 822.5,322.9 823.5,323.0 824.6,323.2 825.4,322.0 826.6,323.0 827.5,322.6 828.5,322.3 829.5,321.9 830.4,320.7 831.5,321.6 832.5,321.6 833.4,321.1 834.4,320.5 835.4,320.2 836.3,319.8 837.2,318.7 838.4,320.0 839.4,320.0 840.3,319.1 841.3,319.5 842.3,319.3 843.3,319.5 844.4,320.3 845.5,320.9 846.5,320.9 847.5,320.5 848.4,319.8 849.3,319.1 850.3,318.8 851.3,318.7 852.3,318.7 853.3,318.7 854.3,318.7 855.3,318.9 856.4,318.9 857.4,319.1 858.4,318.9 859.3,318.4 860.3,317.7 861.2,317.5 862.2,317.4 863.3,317.9 864.3,318.3 865.4,318.6 866.3,318.4 867.3,317.9 868.3,317.5 869.2,317.0 870.2,316.9 871.2,317.0 872.2,316.8 873.2,316.4 874.1,316.1 875.1,315.7 876.1,315.8 877.1,316.0 878.2,316.5 879.2,316.7 880.3,317.4 881.3,317.5 882.3,317.1 883.2,316.8 884.2,316.5 885.2,316.2 886.1,315.6 887.1,315.6 888.1,315.6 889.1,315.8 890.1,315.7 891.1,315.6 892.1,315.5 893.1,315.5 894.1,315.1 895.0,314.6 896.0,314.0 896.8,312.8 897.9,313.9 898.9,313.2 900.0,314.1 901.0,314.5 902.1,315.3 903.2,315.9 904.2,316.2 905.2,316.0 906.1,315.4 907.0,314.5 907.9,313.1 908.9,313.6 909.9,313.4 910.9,313.1 911.8,312.6 912.8,312.4 913.8,312.3 914.8,312.7 915.8,312.9 916.9,313.0 917.8,312.5 918.8,312.4 919.9,312.5 920.9,312.6 921.9,312.5 923.0,312.7 924.0,312.3 925.0,312.0 926.0,312.0 927.1,312.2 928.2,312.3 929.2,312.2 930.3,311.9 931.3,311.5 932.4,310.9 933.4,310.7 934.5,311.2 935.6,311.5 936.7,312.0 937.8,312.0 938.9,311.8 940.0,311.4 941.1,311.7 942.2,312.0 943.3,312.6 944.4,312.4 945.5,312.3 946.7,311.8 947.9,312.0 949.0,312.4 950.0,312.8 951.2,312.9 952.4,312.8 953.6,312.7 954.7,313.2 955.7,313.7 956.7,314.3 957.7,314.9 958.7,315.3 959.6,315.8 960.6,316.2 961.6,316.2 962.7,316.3 963.6,316.6 964.6,316.9 965.3,317.7 966.0,318.4 966.8,319.0 967.9,318.7 968.4,320.1 969.3,320.2 970.2,320.0 971.0,319.8 971.7,319.7 972.4,319.6 973.0,319.5 973.7,319.4 974.5,319.4 974.5,334.6 973.3,334.4 972.0,334.4 970.7,334.1 969.4,333.5 968.2,333.1 967.0,332.7 965.8,332.6 964.6,332.5 963.4,332.7 962.4,332.2 961.3,332.1 960.3,331.6 959.3,331.5 958.2,331.5 956.6,332.8 956.1,331.2 955.2,330.9 954.5,330.0 953.5,330.1 953.1,328.4 952.3,327.9 951.5,327.6 950.5,327.7 949.7,327.6 948.7,328.0 948.0,327.1 947.2,326.8 946.4,326.7 945.5,326.7 944.6,326.5 943.8,326.3 943.0,325.8 942.1,325.7 941.1,326.1 940.2,326.4 939.3,326.7 938.4,326.7 937.6,326.2 936.6,325.6 935.7,325.2 934.8,325.5 933.9,326.0 933.0,326.5 932.1,326.6 931.1,326.6 930.2,326.5 929.3,326.7 928.3,327.0 927.4,326.9 926.4,326.6 925.4,326.2 924.4,326.1 923.4,326.2 922.5,326.4 921.5,326.5 920.5,326.9 919.6,327.2 918.6,327.6 917.7,327.9 916.7,328.3 915.7,328.4 914.7,328.7 913.7,328.4 912.8,329.7 911.6,328.3 910.6,328.4 909.6,328.4 908.6,328.4 907.6,328.3 906.6,328.8 905.7,329.3 904.7,330.0 903.8,330.5 902.8,330.4 901.7,329.8 900.7,330.1 899.6,329.3 898.6,329.4 897.6,329.6 896.7,330.0 895.6,330.0 894.6,330.0 893.6,330.0 892.7,331.0 891.6,330.3 890.7,330.8 889.7,331.3 888.7,331.6 887.7,331.5 886.7,331.7 885.9,333.0 884.7,331.3 883.7,331.4 882.7,331.9 881.8,332.3 880.8,332.4 879.7,332.4 878.7,332.0 877.7,332.1 876.7,332.4 875.8,332.9 874.8,332.8 873.7,332.5 872.7,332.2 871.6,331.9 870.6,331.8 869.7,332.2 868.7,332.5 867.9,334.4 866.7,333.1 865.8,333.5 864.7,333.1 863.7,333.0 862.7,332.6 861.7,332.7 860.7,332.8 859.7,333.3 858.7,333.3 857.7,333.7 856.8,333.9 855.8,334.1 854.9,335.4 853.8,334.0 852.7,333.7 851.7,333.6 850.7,333.5 849.7,333.7 848.7,334.0 847.8,334.8 846.9,335.5 845.9,335.8 844.9,335.7 843.9,336.1 842.9,336.3 841.9,336.2 841.0,336.5 839.9,336.3 838.9,336.3 837.9,336.3 837.1,338.2 835.9,336.3 834.9,336.0 833.8,335.6 832.9,335.9 831.9,336.0 830.9,336.7 830.0,337.0 829.0,337.0 828.0,337.0 827.0,336.9 825.9,336.6 824.9,336.7 824.0,336.8 823.0,336.9 822.0,337.2 821.0,337.3 820.0,337.2 819.0,337.6 818.1,338.0 817.1,338.2 816.1,338.4 815.1,338.7 814.1,338.6 813.1,338.5 812.1,338.3 811.0,337.9 810.0,337.7 809.1,338.3 808.1,338.6 807.2,339.1 806.2,339.7 805.3,340.2 804.3,340.1 803.3,339.8 802.2,339.4 801.2,339.4 800.2,339.5 799.3,340.0 798.4,340.5 797.4,340.9 796.5,341.4 795.5,341.8 794.5,341.7 793.5,341.5 792.4,341.2 791.5,341.4 790.5,341.5 789.5,341.7 788.5,341.4 787.4,341.3 786.4,340.9 785.4,340.8 784.4,340.8 783.4,341.3 782.5,341.9 781.6,342.5 780.6,342.6 779.6,342.5 778.6,342.4 777.6,342.6 776.9,344.5 775.7,343.1 774.7,343.0 773.7,343.1 772.7,343.1 771.7,343.2 770.7,343.3 769.7,343.1 768.6,342.9 767.7,343.2 766.7,343.5 765.8,343.7 764.9,344.4 763.9,344.9 763.0,345.3 762.0,345.5 761.1,345.8 760.1,345.7 759.1,345.7 758.0,345.3 756.9,345.0 756.1,346.0 755.0,345.3 754.1,346.2 753.3,347.1 752.4,347.6 751.4,347.9 750.4,347.8 749.4,347.9 748.5,348.3 747.5,348.6 746.5,348.6 745.5,348.7 744.6,349.1 743.6,349.1 742.6,349.4 741.6,349.6 740.7,350.0 739.5,349.2 738.6,349.4 737.6,349.8 736.8,350.5 735.9,351.2 735.0,351.6 734.1,352.1 733.1,352.3 732.0,352.2 731.0,352.0 729.9,351.7 728.8,351.3 727.8,351.1 726.8,351.1 725.8,351.4 724.9,351.9 724.0,352.6 723.1,353.2 722.2,353.6 721.2,353.5 720.3,354.1 719.2,353.9 718.2,354.0 717.2,354.2 716.3,354.5 715.3,354.7 714.4,355.1 713.4,355.4 712.4,355.5 711.4,355.5 710.5,355.9 709.6,356.5 708.7,356.9 707.7,356.9 706.7,357.1 705.7,357.3 704.8,357.6 703.8,358.0 702.8,358.0 701.6,357.4 700.5,357.1 699.5,357.0 698.6,357.6 697.8,358.5 697.0,359.3 696.0,359.4 694.9,359.2 693.7,358.7 692.7,358.5 691.8,359.2 690.9,359.7 690.1,360.5 689.1,360.8 688.2,361.1 687.1,360.9 686.5,362.7 685.1,361.3 684.2,361.9 683.3,362.0 682.3,362.2 681.4,362.7 680.1,361.8 679.1,362.0 678.3,362.7 677.4,363.4 676.6,364.1 675.6,364.3 674.5,364.2 673.5,363.9 672.5,364.2 671.5,364.5 670.7,365.2 669.7,365.6 668.7,365.7 667.7,365.5 666.7,365.6 665.6,365.5 664.6,365.6 663.6,365.6 662.6,365.9 661.7,366.3 661.2,368.4 660.0,367.7 659.2,368.6 657.9,367.7 656.8,367.6 655.8,367.4 654.9,368.0 654.0,368.4 653.0,368.7 652.1,369.2 651.2,369.8 650.6,371.6 649.4,370.8 648.5,371.4 647.5,371.4 646.4,371.4 645.4,371.4 644.5,371.7 643.5,372.2 642.7,373.0 641.7,373.0 640.6,372.7 639.5,372.4 638.4,372.2 637.4,372.3 636.5,373.0 635.6,373.5 634.7,374.2 633.8,374.5 632.8,374.7 631.7,374.4 630.6,374.2 629.6,374.2 628.7,374.7 627.7,374.8 626.8,375.5 625.9,376.1 624.9,376.3 623.9,376.2 622.8,376.1 622.0,376.9 620.7,375.8 619.8,376.3 618.9,376.9 617.9,377.2 617.0,377.5 615.9,377.5 615.0,377.9 614.0,378.0 613.0,378.1 611.9,377.9 610.9,377.9 609.9,378.2 609.4,380.6 608.3,380.1 607.4,381.0 606.5,381.2 605.4,381.2 604.4,381.0 603.2,380.5 602.1,380.1 601.1,380.0 600.1,380.3 599.2,381.0 598.3,381.4 597.4,382.2 596.2,381.5 595.3,381.7 594.5,382.6 593.6,383.6 592.7,384.2 591.7,384.3 590.7,384.2 589.8,384.8 588.5,383.7 587.4,383.4 586.4,383.1 585.4,383.4 584.5,384.1 583.7,385.1 582.9,386.2 582.0,386.6 580.9,386.5 579.8,386.0 578.7,385.6 577.7,385.6 576.7,385.8 575.7,386.1 574.8,386.3 574.0,387.7 572.7,386.1 571.7,386.5 570.8,386.8 569.8,387.2 569.1,388.7 567.8,387.4 566.9,387.9 566.0,388.2 565.0,388.7 564.0,388.8 563.0,388.8 562.0,388.7 561.0,389.0 559.9,388.8 558.9,388.8 557.9,388.8 556.9,388.9 556.0,389.3 555.1,389.8 554.3,391.2 553.1,390.3 552.2,390.6 551.2,390.9 550.3,391.6 549.4,392.2 548.5,392.5 547.5,392.6 546.5,393.0 545.6,393.2 544.6,393.3 543.7,393.8 542.7,394.0 541.7,394.4 540.8,394.6 539.7,394.3 538.5,393.7 537.5,393.6 536.6,394.2 535.7,394.6 534.7,395.1 533.8,395.3 532.8,395.5 531.8,395.6 530.9,396.1 530.0,396.5 529.1,397.0 528.1,397.3 527.1,397.4 526.0,397.2 525.3,398.4 524.1,397.8 523.3,398.5 522.4,399.1 521.4,399.4 520.4,399.2 519.3,399.0 518.2,398.6 517.1,398.4 516.1,398.5 515.3,399.3 514.4,399.9 513.5,400.2 512.5,400.5 511.5,400.4 510.4,400.1 509.4,400.1 508.4,400.5 507.4,400.6 506.5,401.1 505.6,401.4 504.6,401.5 503.5,401.5 502.7,402.2 501.9,403.3 500.9,403.4 500.0,403.6 498.9,403.5 497.9,403.4 496.8,403.4 495.9,403.9 495.0,404.3 494.0,404.4 493.0,404.2 492.2,405.3 490.9,404.3 490.0,404.8 489.2,405.4 488.3,406.1 487.4,406.4 486.5,406.9 485.4,406.6 484.4,406.8 483.4,406.9 482.4,407.2 481.5,407.5 480.6,408.1 479.7,408.4 478.7,408.6 477.7,408.7 476.6,408.4 475.5,408.1 474.6,408.4 473.7,409.0 472.8,409.6 471.9,409.9 471.0,410.4 470.0,410.5 469.1,411.0 468.2,411.6 467.3,412.1 466.3,412.0 465.3,412.3 464.3,412.1 463.3,412.3 462.4,412.8 461.4,413.0 460.4,413.1 459.5,413.4 458.5,413.6 457.7,414.2 456.8,414.6 455.8,414.9 454.8,414.8 453.7,414.6 452.7,414.7 451.9,415.5 451.2,416.7 450.3,417.0 449.4,417.4 448.4,417.5 447.3,417.4 446.3,417.5 445.7,418.8 444.5,418.2 443.5,418.6 442.6,419.0 441.7,419.2 440.7,419.4 439.7,419.6 438.8,420.1 438.0,420.6 437.1,421.0 436.1,421.2 435.1,421.3 434.1,421.3 433.1,421.5 432.6,423.1 431.6,423.1 430.6,423.3 429.8,424.0 428.8,424.2 427.7,424.0 426.7,424.0 425.8,424.4 424.8,424.6 423.9,425.0 423.0,425.3 422.0,425.6 421.0,425.7 420.4,427.0 419.3,426.7 418.5,427.4 417.7,428.0 416.8,428.5 415.8,428.6 414.9,428.9 413.9,429.2 413.1,429.8 412.2,430.1 411.3,430.5 410.4,430.8 409.5,431.3 408.7,431.8 407.9,432.4 406.9,432.7 406.0,433.0 405.1,433.3 404.0,433.3 403.1,433.8 402.1,433.9 401.3,434.5 400.4,434.7 399.6,435.4 398.6,435.6 397.8,436.2 397.5,437.9 396.4,437.8 395.6,438.4 394.7,438.8 393.7,439.0 392.6,438.9 391.4,438.7 390.4,438.8 389.4,438.9 388.5,439.4 387.9,440.3 387.2,441.0 386.2,441.3 385.2,441.5 384.1,441.4 383.5,442.4 382.5,442.7 381.6,443.0 380.9,443.8 380.3,444.7 379.5,445.3 378.7,445.9 377.7,446.0 376.9,446.5 376.0,446.9 375.2,447.5 374.1,447.6 373.4,448.3 372.6,448.9 371.9,449.6 371.1,450.1 370.4,450.8 369.5,451.2 368.8,451.9 368.2,452.8 367.2,453.1 366.2,453.3 365.3,453.7 364.3,453.9 363.3,454.1 362.4,454.5 361.3,454.7 360.4,455.1 359.9,456.1 359.3,456.9 359.4,458.8 358.2,458.7 357.4,459.2 356.6,459.8 355.8,460.4 354.9,460.7 353.9,461.0 353.0,461.4 352.0,461.7 351.3,462.3 350.5,463.0 350.0,463.8 349.2,464.5 348.7,465.4 348.0,466.0 347.3,466.6 346.3,467.0 345.4,467.5 344.4,467.7 343.7,468.4 343.1,469.2 343.0,470.6 342.1,471.0 341.4,471.7 340.6,472.3 339.9,472.9 339.4,473.7 338.9,474.7 338.1,475.3 337.2,475.7 336.3,476.1 335.3,476.5 334.7,477.2 334.0,478.0 333.3,478.6 332.3,478.9 331.2,479.2 330.1,479.5 329.3,480.1 328.8,480.9 328.2,481.7 327.6,482.5 326.9,483.2 326.5,484.2 325.6,484.6 325.2,485.6 324.8,486.6 324.1,487.2 323.5,488.0 322.6,488.5 321.9,489.2 321.1,489.8 320.6,490.7 319.9,491.3 319.5,492.3 318.8,493.0 318.5,494.0 317.7,494.6 316.5,494.9 315.8,495.5 315.2,496.3 315.2,497.6 313.8,497.7 313.0,498.3 312.3,499.0 311.4,499.5 310.7,500.1 310.0,500.9 309.6,501.8 309.1,502.7 308.7,503.6 307.9,504.3 307.3,505.0 306.7,505.8 306.3,506.7 305.8,507.5 306.0,509.0 304.3,508.9 303.3,509.4 302.7,510.1 302.1,510.9 301.7,511.8 301.3,512.8 300.7,513.5 300.0,514.3 299.4,515.0 299.3,516.2 298.0,516.4 297.5,517.3 296.8,518.0 296.4,518.9 296.3,520.0 295.1,520.4 294.6,521.2 294.1,522.1 293.6,522.9 293.1,523.8 292.7,524.7 292.0,525.5 291.2,526.1 290.4,526.7 289.6,527.3 289.1,528.2 288.7,529.1 288.3,530.1 287.8,530.9 287.8,532.1 286.7,532.5 286.3,533.4 285.4,534.1 285.4,535.2 284.0,535.5 283.4,536.2 282.8,537.0 282.4,538.0 282.0,538.9 281.9,540.0 280.7,540.4 280.0,541.1 279.3,541.9 278.7,542.6 278.0,543.4 278.3,544.7 276.8,544.9 276.4,545.8 275.8,546.7 276.1,548.0 274.8,548.3 274.3,549.2 273.9,550.1 273.3,550.9 272.8,551.8 272.3,552.6 272.3,553.8 271.5,554.5 271.8,555.8 271.0,556.5 270.7,557.4 270.1,558.2 269.5,559.0 268.8,559.8 268.3,560.6 267.5,561.3 266.9,562.1 266.4,562.9 266.0,563.8 265.6,564.7 265.2,565.6 264.7,566.5 264.2,567.4 263.8,568.3 263.4,569.2 262.9,570.0 262.2,570.8 261.5,571.5 260.8,572.3 260.3,573.1 260.0,574.1 259.7,575.0 259.3,576.0 258.8,576.8 258.0,577.5 258.1,578.7 256.9,579.2 256.3,580.0 255.6,580.8 255.2,581.7 254.8,582.6 254.7,583.6 254.3,584.6 253.9,585.4 253.4,586.3 252.5,587.0 251.9,587.8 251.6,588.7 251.3,589.7 251.2,590.8 250.7,591.6 250.3,592.5 249.6,593.3 248.9,594.1 248.4,594.9 248.0,595.8 248.2,597.1 247.1,597.6 246.7,598.5 246.2,599.4 245.7,600.2 245.1,601.1 244.7,602.0 244.3,602.9 244.0,603.8 243.8,604.8 243.3,605.7 242.9,606.6 242.6,607.6 242.1,608.4 241.4,609.2 240.9,610.1 240.4,610.9 240.7,612.2 239.5,612.7 239.1,613.6 238.6,614.5 238.3,615.4 238.1,616.5 237.8,617.4 237.1,618.2 236.5,619.0 236.0,619.8 236.1,621.0 235.5,621.8 235.1,622.7 234.5,623.6 234.4,624.6 233.6,625.3 233.4,626.3 232.7,627.1 232.5,628.1 232.1,629.0 231.9,630.0 231.5,630.9 230.9,631.7 230.2,632.5 229.5,633.3 229.0,634.2 228.7,635.1 228.4,636.1 228.1,637.0 227.8,638.0 227.4,638.9 227.1,639.9 226.9,640.9 226.6,641.8 226.3,642.8 225.7,643.6 225.1,644.5 224.5,645.3 223.7,646.0 223.8,647.2 223.1,647.9 222.7,648.9 222.6,649.9 222.3,650.9 221.9,651.7 221.4,652.7 221.2,653.6 220.6,654.5 220.2,655.4 219.5,656.2 218.9,657.0 218.2,657.8 218.4,659.0 217.4,659.6 217.1,660.6 216.9,661.6 216.5,662.5 216.3,663.5 216.0,664.4 215.9,665.5 215.4,666.3 214.9,667.2 214.1,668.0 213.5,668.8 212.9,669.6 212.7,670.6 212.5,671.6 212.5,672.7 212.4,673.7 212.9,675.1 211.8,675.7 211.4,676.6 210.9,677.4 210.5,678.3 210.1,679.2 209.5,680.1 209.1,681.0 208.8,681.9 208.5,682.9 208.2,683.8 207.9,684.8 207.3,685.6 206.8,686.5 206.3,687.3 205.9,688.3 205.5,689.2 205.7,690.3 204.6,691.0 204.1,691.8 203.5,692.6 203.0,693.5 203.1,694.6 202.5,695.4 202.2,696.4 201.9,697.3 201.4,698.2 200.9,699.1 200.6,700.0 200.5,701.0 200.4,702.1 200.4,703.1 200.2,704.1 199.9,705.0 199.4,705.9 199.0,706.8 198.4,707.6 198.3,708.7 197.4,709.4 197.3,710.4 196.9,711.3 196.6,712.2 196.3,713.2 195.8,714.0 195.4,714.9 195.0,715.9 194.8,716.8 194.5,717.8 194.3,718.8 194.1,719.7 193.8,720.7 193.7,721.7 193.4,722.6 192.9,723.5 192.3,724.3 191.8,725.2 191.4,726.1 191.4,727.1 191.3,728.1 191.1,729.1 191.0,730.1 190.3,730.9 189.9,731.8 189.7,732.8 189.4,733.7 189.0,734.7 188.7,735.6 188.4,736.6 188.2,737.5 187.9,738.5 187.6,739.4 187.3,740.3 186.9,741.3 186.5,742.2 186.1,743.1 185.8,744.1 185.5,745.0 185.1,746.0 184.8,746.9 184.4,747.8 184.1,748.8 183.8,749.7 183.4,750.7" fill="#00ff00"/>
<polygon points="179.1,739.9 179.1,738.9 179.1,737.9 179.1,736.9 179.1,735.9 179.1,734.9 179.1,733.9 179.1,732.9 179.1,731.9 179.1,730.9 179.1,729.9 179.1,728.9 179.1,727.9 179.1,726.8 179.1,725.8 179.1,724.8 179.2,723.8 179.2,722.8 179.2,721.8 179.2,720.8 179.2,719.8 179.2,718.8 179.3,717.8 179.4,716.8 179.4,715.8 179.5,714.8 179.5,713.8 179.5,712.8 179.6,711.8 179.6,710.8 179.7,709.8 179.6,708.7 179.8,707.7 179.9,706.7 180.0,705.7 180.0,704.7 180.1,703.7 180.2,702.7 180.2,701.7 180.3,700.7 180.4,699.7 180.5,698.7 180.6,697.7 180.7,696.7 180.8,695.7 180.9,694.7 181.0,693.7 181.1,692.7 181.2,691.7 181.2,690.7 181.3,689.7 181.4,688.7 181.5,687.7 181.6,686.7 181.7,685.7 181.8,684.7 181.9,683.7 182.0,682.7 182.2,681.7 182.4,680.7 182.5,679.7 182.7,678.7 182.7,677.7 182.8,676.7 182.9,675.7 183.1,674.7 183.3,673.8 183.4,672.8 183.6,671.8 183.6,670.8 183.7,669.8 183.8,668.8 184.0,667.8 184.2,666.8 184.3,665.8 184.5,664.8 184.6,663.8 184.8,662.8 184.9,661.8 185.1,660.8 185.2,659.8 185.3,658.8 185.5,657.8 185.7,656.9 185.7,655.8 186.0,654.9 186.1,653.9 186.3,652.9 186.3,651.9 186.4,650.9 186.7,649.9 186.8,648.9 187.0,647.9 187.3,646.9 187.5,646.0 187.7,645.0 187.9,644.0 188.1,643.0 188.2,642.0 188.3,641.0 188.5,640.0 188.6,639.0 188.8,638.0 189.0,637.1 189.2,636.1 189.4,635.1 189.6,634.1 189.7,633.1 189.9,632.1 190.1,631.1 190.3,630.2 190.5,629.2 190.7,628.2 190.9,627.2 191.1,626.2 191.3,625.3 191.5,624.3 191.7,623.3 191.9,622.3 192.0,621.3 192.2,620.3 192.4,619.3 192.6,618.3 192.8,617.4 193.0,616.4 193.1,615.4 193.3,614.4 193.5,613.4 193.6,612.4 193.9,611.4 194.1,610.5 194.3,609.5 194.6,608.5 194.8,607.5 195.1,606.6 195.3,605.6 195.4,604.6 195.5,603.6 195.7,602.6 195.9,601.6 196.1,600.7 196.4,599.7 196.6,598.7 196.8,597.7 196.9,596.7 197.2,595.7 197.4,594.8 197.7,593.8 197.9,592.8 198.0,591.8 198.2,590.8 198.4,589.9 198.7,588.9 199.0,587.9 199.3,587.0 199.5,586.0 199.6,585.0 199.6,584.0 200.1,583.1 200.3,582.1 200.5,581.1 200.6,580.1 200.8,579.1 201.0,578.1 201.3,577.2 201.4,576.2 201.8,575.2 202.0,574.2 202.2,573.3 202.5,572.3 202.8,571.3 202.9,570.4 203.0,569.3 203.2,568.3 203.4,567.4 203.6,566.4 203.9,565.4 204.2,564.5 204.4,563.5 204.7,562.5 205.0,561.6 205.3,560.6 205.5,559.6 205.3,558.6 205.7,557.6 205.9,556.6 206.1,555.7 206.4,554.7 206.4,553.7 207.1,552.8 207.3,551.8 207.5,550.8 207.6,549.8 207.8,548.9 208.1,547.9 208.4,546.9 208.5,545.9 208.9,545.0 209.1,544.0 209.4,543.1 209.7,542.1 209.9,541.1 210.1,540.1 210.2,539.1 210.4,538.1 210.7,537.2 211.1,536.2 211.1,535.2 211.6,534.3 211.4,533.2 211.9,532.3 212.2,531.4 212.6,530.4 212.9,529.5 213.2,528.5 213.3,527.5 213.4,526.5 213.7,525.5 214.1,524.6 214.3,523.6 214.6,522.6 214.7,521.6 214.9,520.7 215.1,519.7 215.5,518.7 215.7,517.8 216.0,516.8 216.1,515.8 216.4,514.8 216.9,513.9 217.2,513.0 217.5,512.0 217.8,511.0 217.8,510.0 218.1,509.0 218.2,508.0 218.5,507.1 218.9,506.1 219.1,505.1 219.7,504.3 220.1,503.3 220.4,502.4 220.7,501.4 220.9,500.4 221.0,499.4 221.3,498.5 221.6,497.5 222.1,496.6 222.4,495.7 222.7,494.7 222.8,493.7 222.9,492.6 223.0,491.6 223.3,490.7 223.7,489.8 224.2,488.9 224.7,488.0 225.0,487.0 225.2,486.0 225.4,485.0 225.5,484.0 225.3,482.9 226.0,482.0 225.9,481.0 226.6,480.1 227.0,479.2 227.3,478.2 227.6,477.3 227.7,476.3 227.8,475.2 228.1,474.3 228.6,473.4 229.0,472.5 229.1,471.4 229.7,470.6 229.9,469.6 230.2,468.6 230.5,467.6 230.6,466.6 230.9,465.7 231.3,464.7 231.6,463.8 232.0,462.9 232.3,461.9 232.7,461.0 233.0,460.0 233.3,459.1 233.6,458.1 233.9,457.1 234.0,456.1 233.9,455.0 234.6,454.2 234.6,453.1 235.1,452.2 235.6,451.3 236.0,450.4 236.3,449.4 236.7,448.5 237.2,447.6 237.7,446.7 238.1,445.8 238.5,444.9 238.7,443.8 239.0,442.9 239.2,441.9 239.6,441.0 240.1,440.0 240.4,439.1 240.8,438.2 241.2,437.2 241.3,436.2 241.7,435.2 241.7,434.1 242.7,433.5 242.9,432.5 243.2,431.5 243.4,430.5 243.8,429.5 244.4,428.7 244.9,427.8 245.4,426.9 245.9,426.0 245.9,424.9 246.8,424.2 247.2,423.3 247.3,422.2 246.9,420.9 247.7,420.1 248.2,419.2 248.9,418.4 249.6,417.6 249.8,416.6 250.2,415.7 250.4,414.6 250.7,413.6 250.9,412.6 251.2,411.6 251.6,410.6 252.1,409.7 252.7,408.9 253.2,408.0 253.6,407.0 254.1,406.1 254.3,405.1 255.2,404.4 255.5,403.4 256.1,402.5 256.4,401.5 257.1,400.7 257.7,399.9 258.2,399.0 258.5,398.0 258.7,396.8 259.5,396.1 260.0,395.2 260.6,394.4 261.3,393.6 261.1,392.3 262.5,391.9 263.1,391.1 263.6,390.2 264.2,389.3 264.8,388.4 265.5,387.6 266.2,386.9 266.8,386.0 267.5,385.3 268.3,384.6 269.0,383.8 269.6,382.9 270.1,382.0 270.7,381.1 271.2,380.2 271.7,379.3 272.2,378.3 272.6,377.3 273.2,376.4 273.8,375.6 274.8,375.0 275.4,374.2 276.0,373.3 276.4,372.2 277.1,371.5 277.8,370.7 278.7,370.0 279.4,369.3 280.0,368.4 280.7,367.6 281.5,367.0 282.5,366.4 283.3,365.8 284.2,365.2 284.3,363.7 286.0,364.0 286.6,363.2 287.4,362.5 288.1,361.7 288.8,360.9 289.7,360.4 290.7,360.0 291.5,359.3 292.3,358.7 293.1,358.0 293.8,357.2 294.6,356.5 295.4,355.8 295.9,354.8 296.2,353.5 297.2,353.1 298.0,352.4 299.0,352.0 300.0,351.7 300.8,351.0 301.7,350.5 302.7,350.1 303.6,349.5 304.3,348.7 305.1,348.2 305.3,346.6 306.4,346.3 307.0,345.5 307.8,344.8 308.5,344.0 309.0,342.9 310.4,343.0 311.5,342.8 312.6,342.6 313.5,342.2 314.4,341.6 315.2,340.9 315.2,338.9 316.6,339.3 317.4,338.6 318.4,338.2 319.4,338.0 320.6,338.0 321.4,337.4 322.3,336.8 323.0,336.0 323.8,335.3 324.6,334.6 325.4,334.0 326.2,333.4 327.3,333.1 328.4,333.1 329.4,332.8 330.4,332.4 331.1,331.7 331.8,330.8 332.6,330.1 333.6,329.7 334.5,329.4 335.1,328.3 336.3,328.4 337.1,327.7 338.1,327.3 338.8,326.4 340.2,327.0 341.3,326.9 342.1,326.3 342.8,325.3 343.4,324.3 344.2,323.5 345.1,323.2 346.2,323.0 347.1,322.6 348.1,322.3 349.1,321.9 350.1,321.8 350.7,320.6 352.3,321.6 352.9,320.5 353.7,319.8 355.0,320.2 355.7,319.2 356.4,318.3 357.2,317.7 358.2,317.3 359.1,316.9 360.1,316.5 360.9,316.0 361.8,315.4 362.8,315.1 364.0,315.3 365.1,315.3 366.1,315.2 367.0,314.6 367.8,313.8 368.3,312.4 369.5,312.6 370.5,312.4 371.6,312.5 372.7,312.4 373.8,312.4 374.8,312.2 375.7,311.7 376.6,311.2 377.5,310.8 378.4,310.1 379.2,309.4 380.1,308.9 381.0,308.6 382.0,308.3 383.0,307.9 383.8,307.1 384.7,306.8 385.7,306.5 386.8,306.4 387.8,306.2 388.3,304.6 389.6,305.2 390.4,304.5 391.3,304.1 392.3,303.8 393.3,303.5 394.3,303.4 395.4,303.3 396.4,303.2 397.4,302.9 398.4,302.6 399.3,302.2 400.3,302.1 401.3,301.7 402.4,301.8 403.3,301.3 404.2,300.7 405.1,300.3 406.1,300.0 407.0,299.5 408.0,299.3 409.0,298.9 409.9,298.4 410.9,298.1 411.8,297.7 412.9,297.8 414.0,298.0 415.0,297.8 416.0,297.4 417.0,297.2 417.9,296.7 418.8,296.4 419.9,296.3 420.9,296.3 421.9,295.9 422.8,295.6 423.7,295.0 424.6,294.1 425.7,294.5 426.8,294.7 427.8,294.5 428.7,294.1 429.6,293.4 430.6,292.9 431.5,292.6 432.6,292.6 433.6,292.5 434.7,292.5 435.7,292.5 436.8,292.6 437.8,292.6 438.7,292.2 439.6,291.4 440.5,290.8 441.6,290.7 442.7,291.2 443.8,291.3 444.8,291.1 445.7,290.7 446.7,290.5 447.6,290.0 448.6,289.6 449.5,289.1 450.5,288.6 451.5,288.5 452.6,288.8 453.6,288.9 454.6,288.7 455.6,288.3 456.5,287.9 457.6,288.0 458.6,288.2 459.7,288.3 460.7,288.0 461.5,287.1 462.4,286.5 463.5,286.4 464.5,286.6 465.6,286.8 466.6,287.0 467.6,286.7 468.5,286.0 469.4,285.4 470.3,284.5 471.4,285.1 472.5,285.5 473.5,285.5 474.6,285.5 475.5,285.3 476.5,285.2 477.5,284.6 478.4,284.1 479.3,283.5 480.4,283.5 481.4,283.6 482.5,283.9 483.4,283.7 484.4,283.1 485.3,282.7 486.3,282.5 487.4,282.8 488.4,283.2 489.4,283.0 490.4,282.7 491.4,282.4 492.3,282.1 493.1,280.8 494.3,281.6 495.2,281.1 496.2,281.0 497.2,280.8 498.2,280.6 499.1,280.3 500.2,280.4 501.2,280.5 502.2,280.5 503.2,280.3 504.0,278.8 505.1,279.7 506.2,280.0 507.3,280.6 508.3,280.9 509.3,280.8 510.2,280.3 511.2,279.7 512.1,279.4 513.1,279.5 514.1,279.3 515.1,279.3 516.1,279.1 517.1,279.0 518.0,278.7 519.1,278.8 520.0,278.5 521.0,278.2 522.0,278.0 523.0,278.0 523.8,276.9 524.9,277.4 525.8,276.2 527.0,277.4 528.0,277.5 529.0,277.4 529.9,276.7 530.9,276.8 531.9,276.7 533.0,277.0 533.9,276.4 535.0,276.8 535.9,276.2 536.9,275.8 537.9,275.6 539.0,276.1 540.0,276.4 541.1,276.7 542.0,276.1 542.9,275.1 543.8,274.5 544.8,274.4 545.9,274.7 547.0,275.4 548.0,275.4 549.0,275.2 550.0,274.7 550.9,274.2 551.8,273.0 552.9,273.5 553.9,273.4 554.9,273.4 555.9,273.0 556.9,273.0 557.9,272.7 558.8,272.2 559.9,272.0 560.9,271.8 561.9,271.9 563.0,272.6 564.0,272.7 565.0,272.3 566.0,272.0 566.9,270.8 568.0,271.8 569.1,272.3 570.1,272.3 571.1,271.8 572.1,271.8 573.1,271.6 574.2,271.8 575.2,272.3 576.3,272.5 577.3,272.6 578.3,272.5 579.3,272.0 580.3,271.6 581.3,271.3 582.3,271.2 583.4,271.6 584.4,271.9 585.4,272.1 586.4,271.3 587.4,270.4 588.4,270.9 589.5,270.7 590.5,270.5 591.5,270.3 592.5,270.0 593.6,269.3 594.6,269.2 595.7,269.1 596.7,269.2 597.8,269.2 598.8,269.7 599.9,270.1 600.9,270.4 602.0,270.6 603.0,270.9 604.1,271.1 605.1,271.7 606.1,271.9 607.2,271.7 608.4,271.3 609.5,271.1 610.5,271.4 611.6,271.8 612.7,271.8 613.8,272.0 614.9,272.0 615.9,272.6 617.0,272.8 618.2,272.4 619.1,273.6 620.3,273.4 621.5,273.1 622.6,273.6 623.5,274.4 624.6,274.9 625.8,274.9 626.7,275.9 627.8,276.3 628.7,277.1 629.5,278.1 630.4,278.8 631.3,279.6 632.1,280.5 633.0,281.2 634.0,281.8 634.9,282.4 636.0,282.9 637.1,283.4 637.9,284.2 638.7,285.0 639.4,285.9 640.0,286.9 640.7,287.8 641.3,288.7 642.1,289.5 643.1,290.1 643.8,290.9 644.4,291.9 644.9,292.8 645.5,293.8 646.0,294.7 646.7,295.6 647.2,296.5 647.6,297.5 648.6,298.1 648.7,299.3 649.0,300.3 649.4,301.3 649.9,302.3 650.6,303.1 650.7,304.2 651.2,305.1 651.6,306.1 651.9,307.1 652.2,308.1 652.6,309.0 653.0,310.0 653.5,310.9 654.0,311.8 654.5,312.7 654.9,313.7 655.2,314.6 655.5,315.6 655.9,316.6 656.2,317.6 656.8,318.4 656.8,319.5 657.5,320.3 657.5,321.4 657.9,322.4 658.3,323.3 658.6,324.3 658.8,325.3 659.0,326.3 659.5,327.2 659.6,328.2 659.9,329.2 660.2,330.1 660.3,331.1 660.4,332.2 660.6,333.2 660.8,334.1 661.1,335.1 661.5,336.0 661.8,337.0 662.2,337.9 662.5,338.9 662.7,339.8 662.9,340.8 663.1,341.8 663.3,342.8 663.7,343.7 664.0,344.6 664.4,345.6 664.7,346.5 664.9,347.5 665.1,348.5 665.3,349.5 665.5,350.5 665.8,351.4 666.1,352.4 666.4,353.3 666.7,354.3 666.9,355.3 667.2,356.2 667.8,357.1 668.0,358.1 668.3,359.1 668.5,360.1 668.8,361.1 669.0,362.1 669.2,363.1 669.4,364.0 669.6,365.0 669.8,366.0 670.1,367.0 670.5,367.9 670.6,369.0 670.8,370.0 671.0,371.0 671.1,372.0 671.2,373.0 671.4,374.0 671.6,375.0 671.9,375.9 672.1,376.9 672.3,377.9 672.4,378.9 672.6,379.9 672.7,380.9 672.9,381.9 673.1,382.9 673.2,383.9 673.3,384.9 673.5,385.9 673.7,386.9 673.9,387.9 674.0,388.9 674.1,389.9 674.3,390.9 674.5,391.9 674.6,392.9 674.7,393.9 674.7,394.9 674.8,395.9 674.9,396.9 675.0,397.9 675.1,398.9 675.3,399.9 675.4,400.9 675.5,401.9 675.7,402.9 675.8,403.9 675.8,404.9 675.9,405.9 675.9,406.9 676.0,407.9 676.1,408.9 676.2,409.9 676.3,410.9 676.3,411.9 676.4,412.9 676.5,413.9 676.6,414.9 676.6,415.9 676.8,416.9 676.7,417.9 676.8,418.9 676.9,419.9 677.0,420.9 677.1,421.9 677.1,422.9 677.1,424.0 677.2,425.0 677.2,426.0 677.3,427.0 677.4,428.0 677.4,429.0 677.4,430.0 677.4,431.0 677.5,432.0 677.5,433.0 677.6,434.0 677.6,435.0 677.7,436.0 677.7,437.0 677.8,438.0 677.8,439.0 677.9,440.0 677.9,441.0 678.0,442.0 678.0,443.0 678.1,444.0 678.1,445.0 678.2,446.0 678.2,447.0 678.2,448.0 678.3,449.0 678.3,450.0 678.4,451.0 678.4,452.0 678.4,453.0 678.5,454.0 678.5,455.0 678.6,456.0 678.6,457.0 678.6,458.0 678.7,459.0 678.7,460.0 678.8,461.0 678.8,462.0 678.8,463.0 678.9,464.0 678.9,465.0 679.0,466.0 679.0,467.0 679.0,468.0 679.1,469.0 679.1,470.0 679.1,471.0 679.2,472.0 679.2,473.0 679.3,474.0 679.3,475.0 679.3,476.0 679.4,477.0 679.4,478.0 679.5,479.0 679.5,480.0 679.5,481.0 679.6,482.0 679.6,483.0 679.6,484.0 679.7,485.0 679.7,486.0 679.7,487.0 679.8,488.0 679.9,489.0 679.9,490.0 680.0,490.9 680.0,491.9 680.0,492.9 680.0,493.9 680.1,494.9 680.1,495.9 680.1,496.9 680.2,497.9 680.2,498.9 680.2,499.9 680.3,500.9 680.3,501.9 680.3,502.9 680.4,503.9 680.4,504.9 680.5,505.9 680.5,506.9 680.5,507.9 680.6,508.9 680.6,509.9 680.6,510.9 680.7,511.9 680.7,512.9 680.7,513.9 680.8,514.9 680.8,515.9 680.8,516.9 680.9,517.9 680.9,518.9 681.0,519.9 681.0,520.9 681.0,521.9 681.1,522.9 681.1,523.9 681.1,524.9 681.2,525.9 681.2,526.9 681.3,527.9 681.3,528.9 681.4,529.9 681.4,530.9 681.4,531.9 681.5,532.9 681.5,533.9 681.6,534.9 681.6,535.9 681.6,536.9 681.7,537.9 681.7,538.9 681.7,539.9 681.8,540.9 681.8,541.9 681.9,542.9 681.9,543.9 681.9,544.9 682.0,545.9 682.0,546.9 682.0,547.9 682.1,548.9 682.1,549.9 682.2,550.9 682.2,551.9 682.2,552.9 682.3,553.9 682.3,554.9 682.4,555.9 682.4,556.9 682.4,557.9 682.5,558.9 682.5,559.9 682.6,560.9 682.6,561.9 682.6,562.9 682.7,563.9 682.7,564.9 682.8,565.9 682.8,566.9 682.8,567.9 682.9,568.9 682.9,569.9 683.0,570.9 683.0,571.9 683.1,572.9 683.1,573.9 683.1,574.9 683.2,575.9 683.2,576.9 683.3,577.9 683.3,578.9 683.4,579.9 683.4,580.9 683.5,581.9 683.5,582.9 683.5,583.9 683.6,584.9 683.6,585.9 683.7,586.9 683.7,587.9 683.7,588.9 683.8,589.9 683.8,590.9 683.9,591.9 683.9,592.9 684.0,593.9 684.1,594.9 680.7,595.0 680.6,594.0 680.6,593.0 680.5,592.0 680.5,591.0 680.4,590.0 680.3,589.0 680.3,588.0 680.2,587.0 680.2,586.0 680.2,585.0 680.1,584.0 680.0,583.0 680.0,582.0 679.9,581.0 679.9,580.0 679.9,579.0 679.8,578.0 679.8,577.0 679.7,576.0 679.7,575.0 679.6,574.0 679.6,573.0 679.5,572.0 679.5,571.0 679.5,570.0 679.4,569.0 679.4,568.0 679.3,567.0 679.3,566.0 679.3,565.0 679.2,564.0 679.2,563.0 679.1,562.0 679.1,561.0 679.0,560.0 679.0,559.0 678.9,558.0 678.9,557.0 678.9,556.0 678.8,555.0 678.8,554.0 678.7,553.0 678.7,552.0 678.7,551.0 678.6,550.0 678.6,549.0 678.5,548.1 678.5,547.1 678.5,546.1 678.4,545.1 678.4,544.1 678.4,543.1 678.3,542.1 678.3,541.1 678.3,540.1 678.2,539.1 678.2,538.1 678.1,537.1 678.1,536.1 678.1,535.1 678.0,534.1 678.0,533.1 677.9,532.1 677.9,531.1 677.8,530.1 677.8,529.1 677.8,528.1 677.7,527.1 677.7,526.1 677.6,525.1 677.6,524.1 677.6,523.1 677.6,522.1 677.5,521.1 677.5,520.1 677.4,519.1 677.4,518.1 677.3,517.1 677.3,516.1 677.2,515.1 677.2,514.1 677.2,513.1 677.1,512.1 677.1,511.1 677.0,510.1 677.0,509.1 677.0,508.1 676.9,507.1 676.9,506.1 676.8,505.1 676.8,504.1 676.8,503.1 676.7,502.1 676.7,501.1 676.7,500.1 676.6,499.1 676.6,498.1 676.5,497.1 676.5,496.1 676.4,495.1 676.4,494.1 676.3,493.1 676.3,492.1 676.2,491.1 676.2,490.1 676.1,489.1 676.1,488.1 676.1,487.1 676.0,486.1 676.0,485.1 675.9,484.1 675.9,483.1 675.9,482.1 675.8,481.1 675.7,480.1 675.7,479.1 675.7,478.1 675.6,477.1 675.6,476.1 675.5,475.1 675.5,474.1 675.4,473.1 675.4,472.1 675.3,471.1 675.3,470.1 675.2,469.1 675.1,468.1 675.1,467.1 675.0,466.1 675.0,465.1 675.0,464.1 674.9,463.1 674.9,462.1 674.8,461.1 674.8,460.1 674.7,459.1 674.6,458.2 674.6,457.2 674.5,456.2 674.5,455.2 674.4,454.2 674.4,453.2 674.3,452.2 674.2,451.2 674.2,450.2 674.1,449.2 674.0,448.2 674.0,447.2 673.9,446.2 673.9,445.2 673.8,444.2 673.7,443.2 673.7,442.2 673.6,441.2 673.6,440.2 673.5,439.2 673.5,438.2 673.4,437.2 673.3,436.2 673.2,435.2 673.2,434.2 673.1,433.2 673.1,432.2 673.0,431.2 672.9,430.2 672.9,429.2 672.8,428.2 672.7,427.2 672.6,426.2 672.6,425.3 672.5,424.3 672.4,423.3 672.3,422.3 672.3,421.3 672.2,420.3 672.1,419.3 672.0,418.3 672.0,417.3 671.8,416.3 671.7,415.3 671.6,414.3 671.5,413.3 671.4,412.4 671.3,411.4 671.2,410.4 671.1,409.4 670.9,408.4 670.9,407.4 670.8,406.4 670.7,405.4 670.6,404.4 670.5,403.5 670.4,402.5 670.2,401.5 670.1,400.5 670.0,399.5 669.8,398.5 669.7,397.5 669.6,396.6 669.5,395.6 669.4,394.6 669.2,393.6 669.1,392.6 668.8,391.7 668.8,390.7 668.7,389.7 668.5,388.7 668.3,387.7 668.2,386.7 668.0,385.8 667.9,384.8 667.8,383.8 667.6,382.8 667.4,381.9 667.2,380.9 666.9,379.9 666.8,378.9 666.6,378.0 666.5,377.0 666.3,376.0 666.0,375.1 665.8,374.1 665.4,373.2 665.2,372.2 665.0,371.2 664.8,370.3 664.4,369.4 664.4,368.4 664.2,367.4 663.9,366.4 663.8,365.5 663.5,364.5 663.3,363.6 663.0,362.6 662.7,361.7 662.4,360.7 661.9,359.8 661.7,358.9 661.3,358.0 661.0,357.0 660.8,356.0 660.5,355.1 660.3,354.1 660.0,353.2 659.7,352.2 659.4,351.2 659.2,350.3 658.9,349.3 658.6,348.4 658.1,347.5 657.9,346.5 657.5,345.5 657.3,344.6 657.0,343.6 656.6,342.7 656.2,341.7 655.9,340.8 655.7,339.8 655.3,338.9 655.3,337.8 654.9,336.9 654.8,335.9 654.4,335.0 654.1,334.0 653.9,333.1 653.6,332.1 653.2,331.2 653.0,330.2 652.7,329.3 652.3,328.3 652.0,327.4 651.7,326.5 651.5,325.5 651.2,324.6 650.8,323.7 650.0,322.9 649.8,322.0 649.7,320.9 649.5,320.0 649.2,319.0 648.7,318.2 648.4,317.3 648.0,316.4 647.5,315.5 647.1,314.6 646.7,313.8 646.5,312.8 646.1,311.9 646.0,310.9 645.7,310.0 645.3,309.1 644.9,308.2 644.5,307.3 643.9,306.6 643.2,305.8 642.6,305.1 641.9,304.4 641.3,303.6 640.7,302.9 640.1,302.2 639.3,301.5 638.7,300.9 638.1,300.2 637.6,299.4 637.1,298.7 636.5,298.0 635.8,297.3 635.0,296.8 634.2,296.4 633.5,295.8 632.9,295.2 632.3,294.5 631.9,293.7 631.4,293.1 630.6,292.7 629.9,292.2 629.2,291.7 628.6,291.2 628.0,290.5 627.4,289.9 626.6,289.6 625.8,289.4 625.1,288.8 624.3,288.5 623.7,287.9 623.0,287.2 622.3,286.7 621.3,286.8 620.2,287.2 619.2,287.5 618.3,287.5 617.6,286.9 616.8,286.2 616.1,285.7 615.1,285.7 614.2,285.7 613.4,285.5 612.5,285.1 611.6,284.8 610.7,284.7 609.8,284.8 608.8,285.0 607.9,285.0 606.9,285.3 606.0,285.4 605.1,285.5 604.1,285.2 603.2,285.1 602.3,285.0 601.3,285.1 600.4,285.3 599.5,285.1 598.5,285.0 597.6,285.0 596.6,284.9 595.7,285.0 594.7,285.2 593.7,285.3 592.8,285.4 591.8,285.2 590.8,284.7 589.8,284.4 588.9,284.2 587.9,284.0 586.9,283.9 585.9,284.2 585.0,284.7 584.0,285.7 583.1,286.0 582.1,286.0 581.1,285.5 580.1,285.2 579.1,285.1 578.1,285.5 577.2,286.0 576.2,286.4 575.3,286.6 574.3,286.5 573.3,286.1 572.3,285.7 571.3,285.8 570.3,285.9 569.4,286.4 568.4,286.8 567.4,286.8 566.4,286.6 565.4,286.6 564.4,286.5 563.5,286.7 562.5,286.9 561.5,286.8 560.6,287.7 559.5,286.7 558.5,286.8 557.6,287.4 556.7,287.7 555.7,287.7 554.6,287.3 553.6,286.8 552.6,286.7 551.6,286.7 550.6,287.0 549.6,287.4 548.7,287.8 547.9,289.3 546.9,289.1 546.0,289.6 545.2,291.4 544.1,290.4 543.1,290.5 542.1,290.5 541.1,290.3 540.0,290.1 539.0,290.2 538.0,290.1 537.0,290.0 535.9,289.5 534.9,289.5 534.0,289.9 533.1,290.7 532.1,291.3 531.2,291.7 530.2,291.8 529.4,293.2 528.2,292.0 527.3,292.4 526.3,292.8 525.3,292.9 524.3,292.9 523.3,292.8 522.3,292.9 521.3,293.3 520.4,293.9 519.4,293.8 518.3,293.6 517.3,293.7 516.3,293.9 515.4,294.2 514.4,294.7 513.4,294.5 512.3,294.3 511.4,294.5 510.4,294.8 509.4,295.1 508.5,295.8 507.6,296.3 506.6,296.3 505.5,296.3 504.5,296.3 503.5,296.3 502.6,296.6 501.5,296.6 500.5,296.5 499.5,296.3 498.5,296.5 497.5,296.7 496.6,297.1 495.6,297.2 494.6,297.4 493.6,297.5 492.6,297.6 491.6,297.6 490.7,298.1 489.5,297.3 488.6,297.5 487.6,297.7 486.6,297.7 485.6,297.8 484.6,298.0 483.7,298.4 482.7,298.8 481.7,299.0 481.0,300.9 479.9,300.1 479.0,300.8 478.1,301.1 477.0,301.0 476.0,300.9 475.0,300.7 474.0,300.7 473.0,300.7 472.0,300.9 471.0,300.7 469.9,300.7 468.9,300.4 467.9,300.4 466.9,300.7 466.0,301.2 465.1,301.6 464.1,301.8 463.2,302.2 462.2,302.3 461.3,302.9 460.3,302.9 459.3,302.7 458.2,302.5 457.3,302.8 456.3,302.8 455.4,303.5 454.5,304.1 453.6,304.7 452.7,305.4 451.8,305.6 450.7,305.5 449.7,305.0 448.6,304.7 447.5,304.5 446.5,304.6 445.6,304.9 444.7,305.5 443.9,306.2 443.3,308.0 442.1,307.2 441.1,307.2 440.0,306.9 439.0,306.7 438.0,307.0 437.1,307.6 436.3,308.2 435.4,308.9 434.5,309.3 433.5,309.1 432.5,309.2 431.5,309.5 430.5,309.6 429.5,309.4 428.5,309.5 427.6,309.8 426.7,310.2 425.9,311.1 425.0,311.5 424.2,312.5 423.1,312.1 422.2,312.4 421.2,312.7 420.2,312.8 419.2,312.8 418.3,313.1 417.3,313.1 416.3,313.4 415.5,313.9 414.6,314.4 413.6,314.7 412.7,314.9 411.6,314.8 410.7,315.1 409.8,315.4 408.8,315.6 407.8,315.6 406.8,315.7 405.8,316.0 405.0,316.7 404.3,317.7 403.4,318.2 402.5,318.5 401.6,319.0 400.7,319.2 399.6,319.1 399.1,320.6 397.6,319.3 396.7,319.6 395.8,320.2 395.1,320.9 394.4,322.0 393.4,322.2 392.3,321.8 391.3,321.9 390.3,322.1 389.3,322.2 388.2,322.2 387.3,322.5 386.5,323.3 385.7,323.8 384.8,324.3 383.8,324.3 382.8,324.4 381.8,324.5 380.8,324.7 379.9,325.1 379.1,325.7 378.3,326.4 377.5,327.1 376.6,327.5 376.2,328.9 374.6,327.7 373.6,328.0 372.8,328.5 372.1,329.5 370.9,329.1 369.9,329.2 369.3,330.3 368.0,329.7 367.2,330.3 366.3,330.9 365.6,331.7 364.8,332.1 364.0,332.9 363.1,333.2 362.1,333.3 361.2,333.7 360.3,334.1 359.4,334.6 358.5,334.9 357.5,335.1 357.1,336.5 355.6,335.7 354.8,336.2 354.0,336.9 353.1,337.2 352.0,337.2 351.2,337.8 350.2,338.1 349.4,338.7 348.6,339.2 347.7,339.6 346.8,340.1 346.1,340.8 345.2,341.3 344.4,341.7 343.6,342.3 342.8,343.0 342.2,343.9 341.5,344.6 340.6,345.1 339.7,345.5 338.9,345.9 337.9,346.3 337.0,346.5 336.3,347.3 334.8,346.7 334.4,347.8 332.8,347.0 332.2,348.0 331.2,348.2 330.5,348.9 329.7,349.4 328.7,349.7 327.8,350.1 327.0,350.7 326.5,351.8 325.4,351.7 324.5,352.2 323.7,352.7 322.7,353.0 321.9,353.5 321.2,354.2 320.5,354.9 319.8,355.7 319.2,356.4 318.2,356.7 317.2,357.0 316.3,357.3 315.6,358.1 314.9,358.7 314.0,359.2 313.0,359.4 312.3,360.1 311.6,360.7 311.0,361.6 310.2,362.0 309.4,362.6 308.4,363.0 307.6,363.5 306.9,364.1 306.2,364.8 305.5,365.4 304.7,366.0 304.0,366.6 303.1,367.0 302.4,367.8 301.8,368.4 301.2,369.3 300.5,369.9 299.8,370.6 299.1,371.2 298.6,372.1 297.8,372.6 296.8,373.0 295.7,373.1 294.6,373.3 293.8,373.9 293.4,374.9 293.0,375.8 292.6,376.7 291.7,377.3 291.0,377.8 289.9,378.2 289.1,378.7 288.4,379.3 288.0,380.3 287.5,381.1 287.0,381.9 286.3,382.5 285.3,383.0 284.4,383.5 283.8,384.2 283.1,384.8 282.4,385.5 281.8,386.2 281.1,386.9 280.4,387.6 279.7,388.2 279.2,389.1 278.8,390.0 278.5,391.0 278.0,391.8 277.5,392.6 276.9,393.3 276.2,394.1 275.8,394.9 275.5,395.9 274.9,396.6 274.1,397.3 273.6,398.0 272.9,398.8 272.4,399.6 272.2,400.6 271.6,401.4 270.9,402.0 270.2,402.8 269.6,403.5 269.1,404.4 268.9,405.4 268.6,406.3 268.3,407.3 267.8,408.1 267.1,408.8 266.2,409.4 265.6,410.2 265.2,411.1 264.8,412.0 264.4,412.9 263.9,413.7 263.5,414.6 262.6,415.2 262.2,416.1 261.9,417.0 261.4,417.9 261.1,418.8 260.7,419.7 260.3,420.6 260.1,421.6 259.8,422.5 259.5,423.5 258.6,424.1 257.8,424.8 257.1,425.6 256.7,426.5 256.4,427.4 256.1,428.4 255.9,429.4 255.4,430.2 254.8,431.0 254.2,431.8 253.7,432.7 253.2,433.6 253.3,434.7 252.6,435.4 252.4,436.4 252.3,437.4 252.2,438.5 252.0,439.4 251.5,440.3 251.5,441.4 250.6,442.1 250.1,442.9 249.5,443.8 248.9,444.6 248.4,445.4 247.9,446.3 247.4,447.2 247.2,448.2 246.9,449.1 246.5,450.0 246.1,450.9 245.6,451.8 245.2,452.7 245.0,453.7 244.8,454.7 244.6,455.7 244.5,456.7 244.1,457.6 243.8,458.5 243.3,459.4 242.8,460.3 242.3,461.2 241.9,462.1 241.3,462.9 240.9,463.8 240.6,464.8 240.4,465.8 240.0,466.7 239.7,467.6 239.3,468.5 238.9,469.5 238.7,470.5 238.6,471.5 238.5,472.5 238.2,473.4 237.8,474.4 237.4,475.3 236.9,476.1 237.0,477.2 236.4,478.1 236.1,479.0 235.6,479.9 235.2,480.8 234.8,481.7 234.5,482.7 234.3,483.7 233.9,484.6 233.5,485.5 233.6,486.6 232.8,487.4 232.5,488.3 232.2,489.3 231.9,490.2 231.7,491.2 231.4,492.1 231.2,493.1 231.4,494.2 230.7,495.0 230.3,496.0 230.0,496.9 229.6,497.8 229.2,498.8 228.9,499.7 228.7,500.7 228.4,501.6 228.3,502.6 228.0,503.6 227.8,504.6 227.4,505.5 227.1,506.4 226.7,507.3 226.3,508.3 225.9,509.2 225.5,510.1 225.2,511.1 224.9,512.0 224.6,513.0 224.4,514.0 224.3,515.0 224.2,516.0 223.9,516.9 223.7,517.9 223.4,518.9 223.3,519.8 223.0,520.8 222.6,521.7 222.2,522.7 221.9,523.6 221.7,524.6 221.6,525.6 221.4,526.6 221.3,527.6 220.7,528.5 220.3,529.4 219.9,530.3 219.4,531.2 219.2,532.2 219.1,533.2 219.1,534.2 218.9,535.2 218.7,536.2 218.5,537.1 218.2,538.1 218.0,539.1 217.7,540.0 217.3,541.0 217.0,541.9 216.8,542.9 216.5,543.8 216.3,544.8 216.1,545.8 215.7,546.7 215.7,547.7 215.1,548.6 214.8,549.6 214.6,550.6 214.4,551.5 214.1,552.5 213.8,553.5 213.6,554.4 213.2,555.4 213.0,556.3 212.8,557.3 212.5,558.3 212.4,559.3 212.2,560.3 212.0,561.2 211.8,562.2 211.5,563.2 211.2,564.1 210.9,565.1 210.6,566.0 210.7,567.1 210.2,568.0 210.3,569.0 209.7,569.9 209.3,570.8 208.9,571.8 208.7,572.8 208.6,573.8 208.5,574.8 208.4,575.8 208.3,576.8 207.9,577.7 207.6,578.7 207.3,579.6 207.0,580.6 206.7,581.5 206.5,582.5 206.3,583.5 206.2,584.5 206.3,585.5 205.8,586.4 205.6,587.4 205.2,588.3 204.9,589.3 204.7,590.3 204.5,591.3 204.4,592.2 204.1,593.2 203.8,594.2 203.6,595.1 203.3,596.1 203.0,597.1 202.8,598.0 202.6,599.0 202.4,600.0 202.2,601.0 202.1,602.0 201.8,602.9 201.5,603.9 201.3,604.9 201.1,605.8 200.9,606.8 200.8,607.8 200.5,608.8 200.2,609.7 199.9,610.7 199.6,611.6 199.4,612.6 199.3,613.6 199.0,614.6 198.8,615.5 198.6,616.5 198.4,617.5 198.3,618.5 198.2,619.5 198.0,620.5 197.8,621.4 197.6,622.4 197.3,623.4 197.1,624.4 196.9,625.3 196.8,626.3 196.6,627.3 196.5,628.3 196.3,629.3 196.0,630.2 195.7,631.2 195.5,632.2 195.3,633.1 195.1,634.1 194.9,635.1 194.7,636.1 194.6,637.1 194.4,638.1 194.3,639.0 194.1,640.0 193.9,641.0 193.7,642.0 193.5,642.9 193.3,643.9 193.1,644.9 193.0,645.9 192.9,646.9 192.8,647.9 192.6,648.9 192.3,649.8 192.1,650.8 192.0,651.8 191.8,652.8 191.7,653.8 191.5,654.7 191.4,655.7 191.3,656.7 191.2,657.7 191.0,658.7 190.8,659.7 190.7,660.7 190.5,661.6 190.3,662.6 190.2,663.6 190.1,664.6 189.9,665.6 189.8,666.6 189.6,667.5 189.4,668.5 189.3,669.5 189.2,670.5 189.1,671.5 189.0,672.5 189.0,673.5 188.7,674.5 188.6,675.4 188.5,676.4 188.3,677.4 188.2,678.4 188.0,679.4 187.9,680.4 187.9,681.4 187.7,682.4 187.6,683.3 187.5,684.3 187.4,685.3 187.3,686.3 187.2,687.3 187.1,688.3 187.0,689.3 186.9,690.3 186.8,691.3 186.6,692.3 186.5,693.2 186.5,694.2 186.4,695.2 186.4,696.2 186.4,697.2 186.3,698.2 186.1,699.2 186.0,700.2 186.0,701.2 185.9,702.2 185.8,703.2 185.7,704.2 185.6,705.1 185.5,706.1 185.4,707.1 185.5,708.1 185.3,709.1 185.2,710.1 185.2,711.1 185.1,712.1 185.2,713.1 185.0,714.1 184.9,715.1 184.9,716.1 184.8,717.0 184.8,718.0 184.7,719.0 184.7,720.0 184.6,721.0 184.6,722.0 184.5,723.0 184.5,724.0 184.5,725.0 184.4,726.0 184.4,727.0 184.4,728.0 184.4,729.0 184.4,730.0 184.3,730.9 184.2,731.9 184.2,732.9 184.2,733.9 184.2,734.9 184.1,735.9 184.1,736.9 184.1,737.9 184.1,738.9 184.1,739.9" fill="#ff8000"/>
<polygon points="179.0,748.0 178.9,747.0 178.8,745.9 178.9,744.9 178.9,743.9 179.0,742.9 179.0,741.9 179.0,740.9 179.0,739.9 179.0,738.9 179.0,737.9 179.1,736.9 179.1,735.9 179.1,734.9 179.2,733.9 179.2,732.9 179.2,731.9 179.3,730.9 179.3,729.9 179.3,728.9 179.3,727.9 179.4,726.9 179.4,725.9 179.4,724.9 179.5,723.8 179.5,722.8 179.5,721.8 179.5,720.8 179.5,719.8 179.6,718.8 179.6,717.8 179.7,716.8 179.7,715.8 179.7,714.8 179.7,713.8 179.9,712.8 180.0,711.8 180.0,710.8 180.0,709.8 180.1,708.8 180.2,707.8 180.3,706.8 180.5,705.8 180.5,704.8 180.6,703.8 180.6,702.8 180.7,701.8 180.7,700.8 180.8,699.8 180.9,698.8 181.1,697.8 181.2,696.8 181.3,695.8 181.3,694.8 181.4,693.8 181.5,692.8 181.6,691.8 181.8,690.8 181.9,689.8 182.0,688.8 182.1,687.8 182.2,686.8 182.4,685.8 182.5,684.8 182.6,683.8 182.7,682.8 182.8,681.8 182.8,680.8 182.9,679.8 183.1,678.8 183.3,677.8 183.3,676.8 183.5,675.8 183.6,674.8 183.7,673.8 183.8,672.8 183.9,671.8 184.0,670.8 184.1,669.8 184.3,668.8 184.4,667.9 184.6,666.9 184.7,665.9 184.9,664.9 185.1,663.9 185.2,662.9 185.4,661.9 185.5,660.9 185.7,659.9 185.8,658.9 185.9,657.9 186.0,656.9 186.1,655.9 186.3,654.9 186.4,653.9 186.6,653.0 186.7,652.0 187.0,651.0 187.2,650.0 187.4,649.0 187.5,648.0 187.7,647.0 187.8,646.0 187.9,645.0 188.0,644.0 188.0,643.0 188.3,642.1 188.5,641.1 188.7,640.1 188.8,639.1 189.0,638.1 189.2,637.1 189.3,636.1 189.5,635.1 189.6,634.1 189.8,633.2 190.2,632.2 190.4,631.2 190.4,630.2 190.5,629.2 190.6,628.2 190.8,627.2 191.0,626.3 191.3,625.3 191.4,624.3 191.7,623.3 191.8,622.3 191.9,621.3 192.1,620.3 192.3,619.3 192.5,618.4 192.7,617.4 192.9,616.4 193.1,615.4 193.2,614.4 193.4,613.4 193.7,612.5 193.9,611.5 194.0,610.5 194.2,609.5 194.4,608.5 194.6,607.5 194.9,606.6 195.1,605.6 195.3,604.6 195.5,603.6 195.5,602.6 195.9,601.7 196.0,600.7 196.2,599.7 196.4,598.7 196.6,597.7 196.9,596.8 197.1,595.8 197.4,594.8 197.6,593.8 197.8,592.9 198.0,591.9 198.1,590.9 198.3,589.9 198.5,588.9 198.7,587.9 198.9,587.0 199.1,586.0 199.1,584.9 199.4,584.0 199.5,583.0 199.7,582.0 199.9,581.0 200.1,580.0 200.3,579.1 200.5,578.1 200.7,577.1 201.0,576.1 201.2,575.1 201.4,574.2 201.7,573.2 201.9,572.2 201.8,571.2 202.2,570.3 202.4,569.3 202.7,568.3 202.9,567.3 203.2,566.4 203.4,565.4 203.7,564.4 203.9,563.4 204.1,562.5 204.3,561.5 204.5,560.5 204.6,559.5 204.8,558.5 204.9,557.5 205.1,556.5 205.4,555.6 205.8,554.6 206.0,553.7 206.3,552.7 206.5,551.7 206.7,550.7 206.8,549.7 207.0,548.8 207.3,547.8 207.5,546.8 207.8,545.9 208.0,544.9 208.2,543.9 208.4,542.9 208.6,541.9 208.8,541.0 209.1,540.0 209.3,539.0 209.4,538.0 209.7,537.1 210.0,536.1 210.2,535.1 210.5,534.2 210.6,533.2 210.6,532.1 210.9,531.2 211.0,530.2 211.3,529.2 211.5,528.2 211.8,527.3 212.1,526.3 212.3,525.3 212.6,524.4 212.8,523.4 213.1,522.4 213.2,521.4 213.5,520.5 213.7,519.5 213.9,518.5 214.2,517.6 214.2,516.5 214.6,515.6 214.9,514.6 215.1,513.7 215.3,512.7 215.5,511.7 215.7,510.7 216.0,509.8 216.4,508.8 216.6,507.9 216.8,506.9 217.0,505.9 217.2,504.9 217.4,503.9 217.7,503.0 217.8,502.0 218.0,501.0 218.1,500.0 218.3,499.0 218.5,498.0 218.8,497.1 219.1,496.1 219.3,495.2 219.6,494.2 219.8,493.2 220.0,492.2 220.2,491.2 220.5,490.3 220.7,489.3 220.9,488.4 221.2,487.4 221.5,486.4 221.8,485.5 221.9,484.5 222.0,483.5 222.2,482.5 222.4,481.5 222.6,480.5 222.8,479.6 223.0,478.6 223.3,477.6 223.4,476.6 223.6,475.6 223.7,474.6 223.9,473.6 224.1,472.7 224.4,471.7 224.7,470.8 224.9,469.8 225.3,468.8 225.4,467.9 225.6,466.9 225.7,465.9 225.8,464.9 226.1,463.9 226.3,462.9 226.6,462.0 226.8,461.0 227.0,460.0 227.2,459.0 227.4,458.0 227.6,457.1 227.8,456.1 228.0,455.1 228.2,454.1 228.5,453.1 228.7,452.2 229.1,451.2 229.4,450.3 229.6,449.3 229.8,448.3 230.0,447.3 230.2,446.4 230.4,445.4 230.7,444.4 230.9,443.4 231.1,442.5 231.2,441.5 231.3,440.4 231.4,439.4 231.6,438.5 231.9,437.5 232.2,436.5 232.4,435.6 232.7,434.6 232.8,433.6 233.0,432.6 233.1,431.6 233.6,430.7 233.9,429.7 234.1,428.8 234.3,427.8 234.5,426.8 234.7,425.8 234.9,424.8 235.1,423.8 235.2,422.8 235.2,421.8 235.7,420.9 236.0,419.9 236.4,419.0 236.7,418.0 236.9,417.0 237.1,416.1 237.4,415.1 237.7,414.1 238.0,413.2 238.2,412.2 238.3,411.2 238.5,410.2 238.7,409.2 239.0,408.3 239.3,407.3 239.4,406.3 239.8,405.4 239.9,404.4 240.1,403.4 240.4,402.4 240.7,401.5 240.9,400.5 241.2,399.5 241.3,398.5 241.6,397.6 242.0,396.6 242.2,395.6 242.4,394.6 242.5,393.6 242.6,392.6 243.0,391.7 243.5,390.8 243.8,389.8 243.9,388.8 244.4,387.9 244.5,386.9 244.7,385.9 245.0,384.9 245.2,383.9 245.6,383.0 245.9,382.0 246.0,381.0 246.1,380.0 246.3,379.0 246.6,378.1 246.9,377.1 247.1,376.1 247.3,375.1 247.5,374.2 247.9,373.2 248.2,372.2 248.5,371.3 248.9,370.4 249.3,369.4 249.7,368.5 249.9,367.5 250.2,366.5 250.4,365.5 250.7,364.6 251.1,363.7 251.5,362.7 251.8,361.8 252.1,360.8 252.3,359.8 252.6,358.9 253.0,357.9 253.3,357.0 253.6,356.0 254.0,355.1 254.3,354.1 254.5,353.1 254.8,352.2 255.1,351.2 255.4,350.2 255.9,349.3 256.3,348.4 256.7,347.5 256.9,346.5 257.1,345.5 257.2,344.5 257.5,343.5 257.9,342.6 258.4,341.7 258.9,340.8 259.1,339.8 259.2,338.7 259.4,337.7 259.6,336.8 259.8,335.7 260.3,334.8 260.7,333.9 261.2,333.0 261.7,332.1 262.0,331.2 262.2,330.2 262.6,329.2 263.1,328.4 263.7,327.5 264.1,326.6 264.3,325.6 264.5,324.5 264.9,323.6 265.3,322.7 265.7,321.8 265.8,320.7 266.0,319.7 266.2,318.7 266.7,317.8 267.3,316.9 267.8,316.0 267.4,314.8 268.5,314.1 268.2,312.9 269.3,312.3 269.8,311.4 270.1,310.4 270.5,309.5 270.6,308.4 270.6,307.2 271.1,306.4 271.6,305.5 272.2,304.6 272.9,303.8 273.4,302.9 273.8,302.0 274.2,301.0 274.5,300.0 274.8,299.1 275.3,298.2 275.9,297.3 276.3,296.4 276.8,295.5 277.3,294.6 277.5,293.5 277.7,292.4 277.9,291.4 278.3,290.4 278.7,289.5 279.6,288.8 280.3,288.0 280.8,287.1 281.1,286.1 281.4,285.1 282.0,284.2 282.8,283.5 283.6,282.7 284.2,281.9 284.6,280.9 285.0,279.9 285.4,279.0 285.7,278.0 286.0,276.9 286.7,276.1 287.5,275.4 288.4,274.7 289.3,274.1 290.1,273.4 290.5,272.4 290.9,271.4 291.3,270.4 291.7,269.4 292.4,268.6 293.1,267.9 293.7,267.0 294.5,266.3 295.1,265.4 295.8,264.6 296.6,263.9 297.3,263.2 297.9,262.3 298.5,261.4 299.0,260.5 299.6,259.6 300.2,258.7 300.4,257.5 302.0,257.5 303.0,257.0 304.1,256.6 305.1,256.1 305.7,255.2 306.3,254.3 306.9,253.5 307.7,252.8 308.6,252.2 309.4,251.6 309.9,250.5 310.2,249.3 310.8,248.4 311.4,247.5 312.2,246.8 313.1,246.3 314.1,245.8 315.0,245.3 316.0,244.8 316.1,243.3 317.1,242.9 317.8,242.0 318.7,241.6 319.8,241.2 320.9,240.9 321.7,240.3 322.4,239.5 323.2,238.8 323.9,238.0 324.3,236.8 325.5,236.7 326.5,236.3 327.3,235.7 327.8,234.6 329.1,234.6 330.0,234.2 330.9,233.7 331.3,232.3 332.6,232.4 333.3,231.6 334.1,231.0 335.1,230.6 335.8,229.9 336.6,229.2 337.5,228.7 338.6,228.5 339.4,227.9 340.3,227.4 341.0,226.5 341.8,225.9 342.8,225.5 343.8,225.2 344.7,224.8 345.8,224.6 346.6,224.0 347.2,223.1 348.0,222.3 348.8,221.6 349.7,221.1 350.7,220.8 351.6,220.3 352.4,219.8 353.2,219.2 354.2,218.8 355.0,218.2 355.8,217.4 356.6,216.8 357.5,216.4 358.4,215.9 359.5,215.7 360.4,215.2 360.6,213.5 362.1,214.2 363.1,213.9 364.1,213.5 365.2,213.5 365.8,212.3 366.8,212.1 367.4,211.1 368.1,210.1 368.8,209.3 369.7,208.9 370.9,209.0 372.0,208.8 373.0,208.5 373.9,208.0 374.7,207.5 375.6,206.9 376.6,206.7 377.5,206.3 378.5,205.9 379.5,205.8 380.6,205.7 381.8,205.7 382.7,205.4 383.5,204.7 384.2,203.6 384.9,202.8 385.7,202.1 386.7,201.7 387.7,201.6 388.6,201.1 389.4,200.4 390.3,200.0 391.2,199.5 392.3,199.3 393.4,199.2 394.4,199.1 395.4,198.9 396.5,198.9 397.4,198.4 398.0,197.1 399.1,197.2 399.9,196.5 400.7,195.8 401.6,195.3 402.5,194.7 403.4,194.3 404.6,194.4 405.7,194.6 406.8,194.5 407.7,194.0 408.6,193.5 409.4,192.7 410.3,192.3 411.4,192.3 412.5,192.5 413.5,192.1 414.4,191.7 415.2,190.8 416.0,190.1 417.0,189.8 418.0,189.6 418.9,189.0 419.8,188.6 420.8,188.4 421.8,188.1 422.8,188.0 423.9,187.9 424.7,187.2 425.6,186.6 426.5,186.3 427.5,185.8 428.4,185.4 429.5,185.4 430.5,185.3 431.1,183.8 432.4,184.7 433.5,184.5 434.4,184.2 435.5,184.3 436.5,184.1 437.6,184.2 438.6,183.9 439.5,183.4 440.1,181.9 441.3,182.3 441.8,180.4 443.3,181.8 444.4,182.0 445.3,181.6 446.3,181.2 447.2,180.6 448.0,179.9 448.9,179.4 449.9,179.0 450.9,178.8 452.0,179.0 453.1,179.2 454.2,179.3 455.2,179.3 455.9,178.1 457.1,178.4 457.7,176.8 458.8,177.1 459.7,176.5 460.7,176.0 461.7,175.9 462.7,175.7 463.8,176.0 464.8,175.9 465.8,175.8 466.8,175.3 467.7,174.8 468.6,174.2 469.7,174.2 470.6,173.9 471.7,174.1 472.7,174.0 473.8,174.0 474.7,173.7 475.8,173.7 476.7,173.2 477.7,173.0 478.7,172.8 479.7,172.7 480.7,172.5 481.8,172.7 482.8,172.4 483.8,172.3 484.8,172.4 485.9,172.4 486.9,172.2 487.8,171.9 488.7,171.3 489.6,170.6 490.6,170.3 491.6,170.2 492.6,170.2 493.6,169.6 494.6,169.6 495.6,169.3 496.6,169.3 497.7,169.6 498.7,169.4 499.6,169.0 500.6,168.7 501.5,168.2 502.5,168.0 503.6,168.3 504.6,168.4 505.6,168.3 506.6,167.8 507.5,167.1 508.5,166.8 509.5,166.9 510.4,166.4 511.6,167.6 512.7,167.5 513.6,167.3 514.6,167.1 515.6,166.7 516.5,166.2 517.4,165.5 518.4,165.3 519.4,165.2 520.5,165.7 521.5,165.7 522.5,165.6 523.5,165.4 524.5,165.3 525.5,165.0 526.5,165.1 527.5,164.7 528.5,164.6 529.5,164.5 530.3,162.9 531.4,163.5 532.4,163.3 533.3,163.2 534.4,163.5 535.4,163.5 536.4,163.1 537.3,162.8 538.3,162.4 539.3,162.5 540.3,162.5 541.4,162.6 542.3,162.3 543.4,162.4 544.4,162.3 545.4,162.5 546.5,162.8 547.5,163.0 548.6,163.1 549.6,163.2 550.6,163.0 551.6,162.4 552.5,162.0 553.5,161.8 554.4,160.1 555.6,161.8 556.6,161.9 557.5,160.3 558.7,161.4 559.7,161.2 560.6,159.5 561.7,160.3 562.7,159.6 563.7,159.2 564.8,159.2 565.8,159.8 566.9,160.5 567.9,159.4 569.0,161.0 570.1,160.8 571.1,160.5 572.2,160.5 573.2,160.6 574.3,161.1 575.3,160.5 576.3,161.4 577.4,161.4 578.4,161.4 579.5,161.4 580.5,161.7 581.6,161.9 582.7,160.7 583.7,161.4 584.9,159.5 585.9,160.4 587.0,160.2 588.1,160.3 589.1,160.2 590.2,160.7 591.2,161.2 592.2,162.0 593.2,162.6 594.3,162.7 595.4,162.4 596.7,162.0 597.9,161.9 598.9,162.5 599.9,163.5 600.9,164.3 602.0,164.6 603.7,163.6 604.5,165.0 605.7,165.4 606.7,166.4 608.1,166.5 608.5,168.4 609.9,168.7 610.6,170.0 611.8,170.7 612.7,171.7 613.4,172.9 613.8,174.2 614.1,175.6 614.3,176.9 614.5,178.2 614.8,179.3 615.1,180.4 615.5,181.5 616.0,182.6 616.4,183.6 616.6,184.7 616.8,185.8 616.9,186.9 617.0,187.9 617.1,189.0 617.2,190.0 617.3,191.0 617.3,192.1 617.5,193.1 617.4,194.1 617.4,195.1 617.5,196.1 617.6,197.1 617.6,198.1 617.7,199.1 617.8,200.2 617.8,201.2 617.9,202.2 617.9,203.2 618.0,204.2 618.0,205.2 618.0,206.2 618.0,207.2 618.0,208.2 618.1,209.2 618.2,210.2 618.2,211.2 618.3,212.2 618.3,213.2 618.3,214.2 618.4,215.2 618.4,216.2 618.5,217.2 618.5,218.2 618.5,219.2 618.5,220.2 618.5,221.2 618.6,222.2 618.6,223.2 618.7,224.2 618.7,225.2 618.7,226.2 618.8,227.2 618.8,228.2 618.8,229.2 618.9,230.2 618.9,231.2 618.9,232.2 619.0,233.2 619.1,234.2 619.1,235.2 619.1,236.2 619.1,237.2 619.1,238.2 619.2,239.2 619.2,240.2 619.3,241.2 619.3,242.2 619.3,243.2 619.4,244.2 619.4,245.2 619.4,246.2 619.4,247.2 619.5,248.2 619.5,249.2 619.5,250.2 619.6,251.2 619.6,252.2 619.6,253.2 619.6,254.3 619.6,255.3 619.6,256.3 619.7,257.3 619.7,258.3 619.7,259.3 619.7,260.3 619.7,261.3 619.8,262.3 619.8,263.3 619.8,264.3 619.8,265.3 619.8,266.3 619.8,267.3 619.9,268.3 619.9,269.3 619.9,270.3 619.9,271.3 619.9,272.3 619.9,273.3 619.9,274.3 619.9,275.3 620.0,276.3 620.0,277.3 620.0,278.3 620.0,279.3 620.0,280.3 620.0,281.3 620.0,282.3 620.0,283.3 620.0,284.3 620.1,285.3 620.1,286.3 620.1,287.3 620.1,288.3 620.1,289.3 620.1,290.3 620.1,291.3 620.1,292.3 620.2,293.3 620.2,294.3 620.2,295.3 620.2,296.3 620.2,297.3 620.2,298.3 620.2,299.3 620.2,300.3 620.2,301.3 620.2,302.3 620.2,303.3 620.2,304.3 620.2,305.3 620.2,306.3 620.2,307.3 620.2,308.3 620.3,309.3 620.2,310.3 620.3,311.3 620.3,312.3 620.3,313.3 620.3,314.3 620.3,315.3 620.3,316.3 620.3,317.3 620.3,318.3 620.3,319.3 620.3,320.3 620.3,321.3 620.3,322.3 620.3,323.3 620.3,324.3 620.3,325.3 620.3,326.3 620.3,327.3 620.3,328.3 620.3,329.3 620.3,330.3 620.3,331.3 620.3,332.3 620.3,333.3 620.3,334.3 620.3,335.3 620.3,336.3 620.3,337.3 620.3,338.3 620.3,339.3 620.3,340.3 620.3,341.3 620.3,342.3 620.3,343.3 620.3,344.3 620.3,345.3 620.3,346.3 620.3,347.3 620.3,348.3 620.3,349.3 620.3,350.3 620.3,351.3 620.3,352.3 620.3,353.3 620.3,354.3 620.3,355.3 620.3,356.3 620.3,357.3 620.3,358.3 620.3,359.3 620.3,360.3 620.4,361.3 620.4,362.3 620.4,363.3 620.4,364.3 620.4,365.3 620.4,366.3 620.4,367.3 620.4,368.3 620.4,369.3 620.4,370.3 620.4,371.3 620.4,372.3 620.4,373.3 620.4,374.3 620.4,375.3 620.4,376.3 620.4,377.3 616.8,377.3 616.8,376.3 616.8,375.3 616.8,374.3 616.8,373.3 616.8,372.3 616.8,371.3 616.8,370.3 616.8,369.3 616.8,368.3 616.7,367.3 616.8,366.3 616.8,365.3 616.8,364.3 616.8,363.3 616.8,362.3 616.7,361.3 616.7,360.3 616.7,359.3 616.7,358.3 616.7,357.3 616.7,356.3 616.7,355.3 616.7,354.3 616.7,353.3 616.7,352.3 616.7,351.3 616.7,350.3 616.7,349.3 616.7,348.3 616.7,347.3 616.7,346.3 616.7,345.3 616.7,344.3 616.7,343.3 616.7,342.3 616.7,341.3 616.7,340.3 616.7,339.3 616.7,338.3 616.7,337.3 616.7,336.3 616.7,335.3 616.7,334.3 616.7,333.3 616.7,332.3 616.7,331.3 616.7,330.3 616.7,329.3 616.7,328.3 616.7,327.3 616.7,326.3 616.7,325.3 616.7,324.3 616.7,323.3 616.7,322.3 616.7,321.3 616.7,320.3 616.7,319.3 616.7,318.3 616.7,317.3 616.6,316.3 616.6,315.3 616.6,314.3 616.6,313.3 616.6,312.3 616.6,311.3 616.6,310.3 616.6,309.3 616.6,308.3 616.6,307.3 616.6,306.3 616.6,305.3 616.6,304.3 616.6,303.3 616.6,302.3 616.6,301.3 616.6,300.3 616.6,299.3 616.6,298.3 616.6,297.3 616.6,296.3 616.6,295.3 616.5,294.3 616.5,293.3 616.5,292.3 616.5,291.3 616.5,290.3 616.5,289.3 616.5,288.3 616.5,287.3 616.5,286.3 616.5,285.3 616.5,284.3 616.5,283.3 616.4,282.3 616.4,281.3 616.4,280.3 616.4,279.3 616.4,278.3 616.4,277.3 616.3,276.3 616.3,275.3 616.3,274.3 616.3,273.3 616.3,272.3 616.2,271.3 616.2,270.3 616.2,269.3 616.2,268.3 616.2,267.3 616.1,266.3 616.1,265.3 616.1,264.3 616.1,263.3 616.0,262.3 616.0,261.3 616.0,260.3 615.9,259.3 615.9,258.3 615.9,257.4 615.9,256.4 615.8,255.4 615.8,254.4 615.8,253.4 615.7,252.4 615.7,251.4 615.6,250.4 615.6,249.4 615.6,248.4 615.5,247.4 615.5,246.4 615.5,245.4 615.4,244.4 615.4,243.4 615.3,242.4 615.3,241.4 615.2,240.4 615.2,239.4 615.1,238.4 615.1,237.4 615.1,236.4 615.0,235.4 615.0,234.4 614.9,233.4 614.8,232.4 614.8,231.4 614.7,230.4 614.7,229.4 614.6,228.4 614.6,227.4 614.5,226.4 614.4,225.4 614.4,224.4 614.3,223.4 614.3,222.4 614.2,221.4 614.1,220.5 614.0,219.5 614.0,218.5 613.9,217.5 613.8,216.5 613.7,215.5 613.6,214.5 613.6,213.5 613.5,212.5 613.4,211.5 613.3,210.5 613.2,209.5 613.1,208.5 613.0,207.5 612.9,206.5 612.8,205.5 612.7,204.6 612.6,203.6 612.5,202.6 612.4,201.6 612.2,200.6 612.0,199.6 611.9,198.6 611.8,197.6 611.7,196.7 611.6,195.7 611.4,194.7 611.1,193.7 611.2,192.7 611.0,191.8 611.0,190.8 610.8,189.9 610.6,189.0 610.3,188.1 610.1,187.2 610.0,186.3 609.8,185.4 609.5,184.5 609.2,183.7 608.7,183.0 608.1,182.4 607.6,181.7 607.0,181.2 606.2,180.8 605.5,180.4 604.8,180.0 604.3,179.6 604.0,178.9 603.5,178.5 602.7,178.3 601.8,178.4 601.0,178.4 600.2,178.4 599.7,178.0 598.7,178.6 598.4,177.2 597.8,176.7 597.1,176.3 596.1,176.6 595.3,176.6 594.4,176.6 593.7,176.0 592.9,175.1 592.1,174.9 591.1,175.0 590.2,175.1 589.2,175.3 588.3,175.4 587.3,175.4 586.4,175.6 585.4,175.7 584.5,175.8 583.6,175.5 582.7,175.0 581.7,174.9 580.8,174.5 579.9,174.3 578.9,174.4 578.0,175.7 577.1,173.9 576.1,174.4 575.2,174.7 574.2,175.0 573.3,175.0 572.3,175.0 571.4,174.5 570.4,174.2 569.4,173.7 568.5,173.4 567.5,173.5 566.6,174.3 565.7,175.0 564.7,175.4 563.8,175.3 562.8,174.9 561.8,174.4 560.8,174.4 559.8,174.5 558.9,175.6 558.0,175.5 557.1,176.1 556.1,176.4 555.3,178.0 554.4,178.5 553.3,177.4 552.3,177.0 551.2,176.5 550.2,176.1 549.1,175.7 548.2,175.9 547.2,176.3 546.3,176.8 545.4,177.3 544.5,178.0 543.5,178.2 542.5,178.2 541.5,178.1 540.4,177.9 539.4,177.7 538.3,177.4 537.5,178.4 536.3,177.2 535.3,177.6 534.4,177.9 533.5,178.8 532.4,178.1 531.3,177.7 530.4,178.5 529.4,178.3 528.4,178.6 527.5,179.2 526.6,179.5 525.5,179.5 524.6,179.6 523.6,179.9 522.6,180.0 521.6,180.0 520.6,179.8 519.5,179.4 518.5,179.6 517.6,179.9 516.6,180.5 515.7,180.8 514.7,180.8 513.7,180.9 512.8,181.4 511.8,181.6 510.8,181.7 509.8,181.5 508.8,181.9 507.7,181.4 506.8,182.0 505.9,182.3 504.9,182.6 503.9,182.4 502.8,182.2 501.9,182.3 500.9,182.5 500.0,182.9 499.0,183.3 498.0,183.5 497.0,183.5 496.1,183.7 495.1,184.1 494.2,184.6 493.3,185.3 492.4,185.6 491.5,186.0 490.5,186.4 489.7,187.1 488.7,187.3 487.7,187.1 486.5,186.6 485.5,186.5 484.5,186.4 483.6,186.9 482.7,187.3 481.6,187.2 480.6,186.8 479.7,187.7 478.6,187.2 477.8,187.9 477.2,190.1 476.0,188.8 474.9,188.5 473.8,188.3 472.8,188.4 472.0,189.2 471.2,190.0 470.3,190.4 469.3,190.5 468.3,190.5 467.2,190.2 466.2,190.1 465.2,190.2 464.2,190.4 463.3,190.8 462.4,191.5 461.5,191.8 460.5,191.9 459.5,191.7 458.4,191.7 457.5,192.0 456.5,192.2 455.7,192.8 454.8,193.2 453.8,193.2 452.7,193.2 451.7,193.2 450.6,192.9 449.7,193.4 448.8,193.8 447.9,194.4 447.2,195.2 446.3,195.8 445.6,197.1 444.5,196.6 443.4,196.5 442.3,196.3 441.4,196.5 440.4,196.7 439.5,197.2 438.7,197.9 437.8,198.3 436.8,198.3 435.7,198.2 434.7,198.2 433.8,198.7 433.0,199.3 432.2,200.0 431.2,200.1 430.2,200.3 429.6,201.6 428.5,201.4 427.6,201.9 426.7,202.2 425.8,202.5 424.8,202.8 424.1,203.7 422.9,203.2 422.0,203.6 421.1,204.2 420.3,204.8 419.5,205.5 418.6,205.9 417.5,205.8 416.6,206.0 415.7,206.5 414.8,206.9 413.8,207.0 412.9,207.3 411.8,207.3 411.0,207.8 410.1,208.3 409.3,208.9 408.3,209.2 407.4,209.5 406.4,209.7 405.5,210.1 404.5,210.2 403.6,210.6 402.7,211.1 402.1,212.0 401.1,212.4 400.2,212.7 399.1,212.7 398.3,213.1 397.3,213.3 396.3,213.6 395.3,213.8 394.6,214.5 393.8,215.2 393.1,216.0 392.3,216.6 391.8,217.8 390.1,216.5 388.9,216.4 388.0,216.6 387.0,216.9 386.3,217.6 385.6,218.4 384.8,219.2 384.0,219.8 383.1,220.2 382.1,220.3 381.2,220.6 380.5,221.4 379.7,222.0 378.9,222.7 378.1,223.3 377.0,223.4 376.0,223.6 375.0,223.7 374.0,223.9 372.9,223.9 372.2,224.7 371.5,225.4 370.8,226.3 370.0,226.9 369.7,228.4 368.3,227.9 367.5,228.5 366.6,228.9 365.7,229.2 364.7,229.5 364.0,230.1 363.0,230.4 362.3,231.1 361.6,231.9 360.7,232.4 359.9,232.9 359.0,233.2 357.9,233.3 357.0,233.7 356.1,234.2 355.8,235.5 354.2,234.8 353.3,235.3 352.7,236.1 352.1,237.0 351.4,237.8 350.7,238.5 349.8,239.0 349.0,239.5 348.3,240.3 347.4,240.5 346.4,240.8 345.3,240.9 344.3,241.2 343.3,241.5 342.6,242.1 341.9,242.9 342.2,245.1 341.0,245.0 340.9,246.6 339.5,246.2 338.3,246.2 337.1,246.1 336.2,246.5 335.6,247.4 335.1,248.3 334.5,249.2 333.8,249.8 332.7,250.0 331.8,250.4 331.1,251.1 331.1,252.7 329.7,252.4 328.8,252.8 327.7,253.0 326.7,253.2 326.1,253.9 325.7,255.0 325.1,255.8 324.2,256.2 323.5,256.8 323.2,258.0 322.6,258.7 321.6,259.0 320.9,259.7 320.0,260.0 319.2,260.6 318.4,261.1 317.6,261.7 317.2,262.6 316.1,262.9 315.3,263.4 314.6,264.0 314.0,264.8 313.4,265.5 313.0,266.5 312.7,267.5 312.4,268.5 311.8,269.2 311.0,269.8 309.8,270.0 308.9,270.4 308.2,271.1 307.7,271.9 307.4,272.9 306.8,273.6 306.2,274.4 305.6,275.1 305.0,275.9 304.3,276.6 303.9,277.5 303.4,278.2 302.7,279.0 302.1,279.7 301.2,280.2 300.4,280.8 299.7,281.5 299.1,282.2 298.4,283.0 298.0,283.9 297.9,284.9 297.7,286.0 297.4,286.9 296.9,287.7 296.1,288.4 296.1,289.5 295.0,289.9 295.1,291.1 294.1,291.7 293.7,292.5 293.0,293.3 292.5,294.1 291.9,294.9 291.6,295.8 291.1,296.6 290.5,297.4 289.9,298.2 289.4,299.0 288.8,299.8 288.4,300.7 287.7,301.4 287.7,302.5 286.4,302.9 285.9,303.7 285.5,304.6 285.3,305.6 285.1,306.6 284.8,307.5 284.0,308.3 283.5,309.1 282.9,309.9 282.4,310.7 281.9,311.6 281.5,312.5 280.8,313.2 280.2,314.0 279.7,314.9 279.3,315.8 278.8,316.6 278.6,317.6 278.8,318.8 277.8,319.4 277.4,320.3 276.7,321.1 275.9,321.8 275.2,322.6 274.6,323.4 274.2,324.3 274.0,325.3 273.9,326.3 273.8,327.3 273.5,328.3 273.1,329.2 272.7,330.1 272.4,331.0 272.0,332.0 271.6,332.8 271.0,333.7 270.6,334.6 270.2,335.5 269.9,336.5 269.7,337.4 269.3,338.3 268.8,339.2 268.8,340.3 267.7,340.9 267.2,341.8 266.7,342.7 266.3,343.6 266.0,344.5 265.5,345.4 265.3,346.3 265.0,347.3 264.7,348.2 264.4,349.2 264.4,350.2 263.7,351.0 263.3,351.9 262.9,352.9 262.5,353.8 262.1,354.7 261.8,355.7 261.6,356.6 261.3,357.6 261.0,358.5 260.6,359.4 260.3,360.4 260.2,361.4 259.6,362.2 259.3,363.2 258.9,364.1 258.5,365.0 258.5,366.1 257.9,366.9 257.7,367.9 257.5,368.9 257.1,369.8 256.8,370.7 256.5,371.7 256.3,372.7 256.1,373.6 255.9,374.6 255.9,375.6 255.1,376.4 254.7,377.4 254.2,378.3 253.9,379.2 253.7,380.2 253.5,381.1 253.1,382.1 252.9,383.1 252.6,384.0 252.3,384.9 252.0,385.9 251.7,386.8 251.4,387.8 251.2,388.8 250.9,389.7 250.6,390.7 250.3,391.6 249.9,392.5 249.6,393.5 249.4,394.5 249.2,395.5 249.1,396.5 249.0,397.5 248.7,398.4 248.4,399.4 248.1,400.3 247.8,401.3 247.5,402.2 247.3,403.2 247.0,404.1 246.8,405.1 246.5,406.1 246.1,407.0 245.7,407.9 245.4,408.9 245.1,409.8 245.0,410.8 244.8,411.8 244.6,412.8 244.3,413.7 244.0,414.7 243.9,415.7 243.7,416.7 243.5,417.6 243.2,418.6 242.9,419.5 242.7,420.5 242.4,421.5 242.1,422.4 241.9,423.4 241.5,424.4 241.3,425.3 241.1,426.3 241.0,427.3 240.8,428.3 240.6,429.3 240.3,430.2 240.0,431.2 239.7,432.1 239.5,433.1 239.2,434.1 239.0,435.0 238.8,436.0 238.6,437.0 238.3,437.9 238.1,438.9 237.8,439.9 237.8,440.9 237.6,441.9 237.4,442.9 237.2,443.8 236.9,444.8 236.7,445.8 236.6,446.8 236.4,447.8 236.3,448.7 235.9,449.7 235.7,450.7 235.4,451.6 235.2,452.6 235.0,453.6 234.9,454.6 234.5,455.5 234.4,456.5 234.2,457.5 234.0,458.5 233.7,459.4 233.4,460.4 233.0,461.3 232.8,462.3 232.7,463.3 232.5,464.3 232.4,465.3 232.1,466.2 231.9,467.2 231.7,468.2 231.5,469.2 231.3,470.2 231.0,471.1 230.8,472.1 230.5,473.1 230.3,474.0 230.1,475.0 229.9,476.0 229.6,477.0 229.4,477.9 229.3,478.9 228.9,479.9 228.6,480.8 228.6,481.9 228.2,482.8 228.0,483.8 227.8,484.8 227.7,485.8 227.5,486.7 227.3,487.7 227.2,488.7 226.9,489.7 226.7,490.7 226.5,491.7 226.2,492.6 225.9,493.6 225.6,494.5 225.4,495.5 225.4,496.5 225.1,497.5 224.9,498.5 224.6,499.4 224.3,500.4 224.1,501.4 223.9,502.3 223.6,503.3 223.4,504.3 223.2,505.3 223.0,506.2 222.8,507.2 222.6,508.2 222.3,509.2 222.1,510.1 221.8,511.1 221.6,512.1 221.5,513.1 221.4,514.1 221.2,515.1 220.9,516.0 220.7,517.0 220.4,518.0 220.3,519.0 220.0,519.9 219.8,520.9 219.4,521.9 219.1,522.8 218.8,523.8 218.6,524.7 218.4,525.7 218.4,526.7 218.0,527.7 217.9,528.7 217.7,529.7 217.5,530.6 217.2,531.6 216.9,532.6 216.7,533.5 216.5,534.5 216.3,535.5 216.2,536.5 216.0,537.5 215.8,538.5 215.5,539.4 215.2,540.4 214.9,541.3 214.7,542.3 214.5,543.3 214.2,544.3 213.9,545.2 213.7,546.2 213.5,547.2 213.4,548.2 213.2,549.1 213.0,550.1 212.9,551.1 212.5,552.1 212.2,553.0 212.0,554.0 211.8,555.0 211.7,556.0 211.4,556.9 211.2,557.9 210.9,558.9 210.7,559.8 210.4,560.8 210.1,561.8 209.9,562.7 209.7,563.7 209.5,564.7 209.3,565.7 209.1,566.6 208.8,567.6 208.6,568.6 208.5,569.6 208.2,570.6 208.1,571.5 207.8,572.5 207.6,573.5 207.4,574.5 207.2,575.4 206.9,576.4 206.6,577.4 206.4,578.3 206.1,579.3 206.0,580.3 205.8,581.3 205.6,582.2 205.3,583.2 205.1,584.2 204.9,585.2 204.8,586.2 204.7,587.1 204.4,588.1 204.2,589.1 203.9,590.1 203.7,591.0 203.6,592.0 203.5,593.0 203.1,594.0 202.9,594.9 202.7,595.9 202.5,596.9 202.3,597.9 202.0,598.8 201.7,599.8 201.5,600.8 201.3,601.7 201.1,602.7 200.9,603.7 200.7,604.7 200.6,605.7 200.4,606.6 200.2,607.6 200.0,608.6 199.8,609.6 199.6,610.6 199.4,611.5 199.2,612.5 199.0,613.5 198.9,614.5 198.7,615.5 198.6,616.5 198.4,617.4 198.2,618.4 198.0,619.4 197.8,620.4 197.6,621.4 197.5,622.3 197.3,623.3 197.1,624.3 196.9,625.3 196.8,626.3 196.6,627.3 196.5,628.2 196.2,629.2 196.0,630.2 195.8,631.2 195.6,632.1 195.4,633.1 195.2,634.1 195.1,635.1 195.1,636.1 194.7,637.1 194.5,638.0 194.3,639.0 194.2,640.0 194.1,641.0 193.9,642.0 194.0,643.0 193.6,644.0 193.5,644.9 193.4,645.9 193.2,646.9 193.0,647.9 192.9,648.9 192.7,649.9 192.5,650.8 192.3,651.8 192.2,652.8 192.1,653.8 192.0,654.8 191.8,655.8 191.7,656.8 191.4,657.7 191.2,658.7 191.0,659.7 190.9,660.7 190.8,661.7 190.7,662.7 190.6,663.6 190.3,664.6 190.2,665.6 190.2,666.6 190.1,667.6 190.2,668.6 189.9,669.6 189.7,670.6 189.6,671.6 189.4,672.5 189.3,673.5 189.3,674.5 189.2,675.5 189.1,676.5 188.9,677.5 188.8,678.5 188.6,679.5 188.5,680.5 188.3,681.4 188.3,682.4 188.0,683.4 187.9,684.4 187.8,685.4 187.8,686.4 187.7,687.4 187.6,688.4 187.5,689.4 187.4,690.4 187.3,691.3 187.1,692.3 187.0,693.3 186.9,694.3 186.8,695.3 186.7,696.3 186.6,697.3 186.5,698.3 186.4,699.3 186.4,700.3 186.3,701.3 186.3,702.3 186.3,703.2 186.1,704.2 186.0,705.2 185.9,706.2 185.8,707.2 185.7,708.2 185.7,709.2 185.6,710.2 185.6,711.2 185.6,712.2 185.5,713.2 185.4,714.2 185.3,715.2 185.2,716.1 185.1,717.1 184.9,718.1 184.8,719.1 184.7,720.1 184.7,721.1 184.7,722.1 184.6,723.1 184.6,724.1 184.5,725.1 184.5,726.1 184.4,727.1 184.4,728.1 184.4,729.1 184.3,730.1 184.3,731.0 184.2,732.0 184.2,733.0 184.2,734.0 184.1,735.0 184.1,736.0 184.1,737.0 184.1,738.0 184.1,739.0 184.0,740.0 184.0,741.0 184.0,742.0 184.0,743.0 184.0,744.0 184.0,745.0 184.0,746.0 184.0,747.0 184.0,748.0" fill="#880008"/>
<circle cx="618.6" cy="388.4" r="1.8" fill="#880008"/>
<circle cx="618.6" cy="428.2" r="1.8" fill="#880008"/>
<circle cx="618.6" cy="500.3" r="1.8" fill="#880008"/>
<circle cx="682" cy="608.3" r="1.9" fill="#ff8000"/>
<circle cx="682" cy="617" r="1.9" fill="#ff8000"/>
<circle cx="682" cy="625.7" r="1.9" fill="#ff8000"/>
<circle cx="682" cy="635.6" r="1.9" fill="#ff8000"/>
<circle cx="682" cy="651.8" r="1.9" fill="#ff8000"/>
<circle cx="682" cy="679.2" r="1.9" fill="#ff8000"/>
<rect x="617.5" y="709" width="11" height="12" rx="2" fill="#7a0008"/>
<rect x="181.7" y="24.8" width="904.6" height="727.7" fill="none" stroke="#1c1c1c" stroke-width="3.6"/>
<line x1="167.2" y1="752.5" x2="181.7" y2="752.5" stroke="#1c1c1c" stroke-width="3.2"/>
<line x1="173.7" y1="691.9" x2="181.7" y2="691.9" stroke="#1c1c1c" stroke-width="3.0"/>
<line x1="167.2" y1="631.2" x2="181.7" y2="631.2" stroke="#1c1c1c" stroke-width="3.2"/>
<line x1="173.7" y1="570.6" x2="181.7" y2="570.6" stroke="#1c1c1c" stroke-width="3.0"/>
<line x1="167.2" y1="509.9" x2="181.7" y2="509.9" stroke="#1c1c1c" stroke-width="3.2"/>
<line x1="173.7" y1="449.3" x2="181.7" y2="449.3" stroke="#1c1c1c" stroke-width="3.0"/>
<line x1="167.2" y1="388.6" x2="181.7" y2="388.6" stroke="#1c1c1c" stroke-width="3.2"/>
<line x1="173.7" y1="328.0" x2="181.7" y2="328.0" stroke="#1c1c1c" stroke-width="3.0"/>
<line x1="167.2" y1="267.4" x2="181.7" y2="267.4" stroke="#1c1c1c" stroke-width="3.2"/>
<line x1="173.7" y1="206.7" x2="181.7" y2="206.7" stroke="#1c1c1c" stroke-width="3.0"/>
<line x1="167.2" y1="146.1" x2="181.7" y2="146.1" stroke="#1c1c1c" stroke-width="3.2"/>
<line x1="173.7" y1="85.4" x2="181.7" y2="85.4" stroke="#1c1c1c" stroke-width="3.0"/>
<line x1="167.2" y1="24.8" x2="181.7" y2="24.8" stroke="#1c1c1c" stroke-width="3.2"/>
<line x1="181.7" y1="752.5" x2="181.7" y2="767.0" stroke="#1c1c1c" stroke-width="3.2"/>
<line x1="294.8" y1="752.5" x2="294.8" y2="760.0" stroke="#1c1c1c" stroke-width="3.0"/>
<line x1="407.8" y1="752.5" x2="407.8" y2="767.0" stroke="#1c1c1c" stroke-width="3.2"/>
<line x1="520.9" y1="752.5" x2="520.9" y2="760.0" stroke="#1c1c1c" stroke-width="3.0"/>
<line x1="634.0" y1="752.5" x2="634.0" y2="767.0" stroke="#1c1c1c" stroke-width="3.2"/>
<line x1="747.1" y1="752.5" x2="747.1" y2="760.0" stroke="#1c1c1c" stroke-width="3.0"/>
<line x1="860.2" y1="752.5" x2="860.2" y2="767.0" stroke="#1c1c1c" stroke-width="3.2"/>
<line x1="973.2" y1="752.5" x2="973.2" y2="760.0" stroke="#1c1c1c" stroke-width="3.0"/>
<line x1="1086.3" y1="752.5" x2="1086.3" y2="767.0" stroke="#1c1c1c" stroke-width="3.2"/>
<text transform="translate(85.50,766.40) scale(0.9062,1)" font-size="45.71" font-weight="bold" fill="#000" stroke="#000" stroke-width="0.35">0.00</text>
<text transform="translate(85.50,645.12) scale(0.9062,1)" font-size="45.71" font-weight="bold" fill="#000" stroke="#000" stroke-width="0.35">0.05</text>
<text transform="translate(85.50,523.83) scale(0.9063,1)" font-size="45.71" font-weight="bold" fill="#000" stroke="#000" stroke-width="0.35">0.10</text>
<text transform="translate(85.50,402.55) scale(0.9063,1)" font-size="45.71" font-weight="bold" fill="#000" stroke="#000" stroke-width="0.35">0.15</text>
<text transform="translate(85.50,281.27) scale(0.9063,1)" font-size="45.71" font-weight="bold" fill="#000" stroke="#000" stroke-width="0.35">0.20</text>
<text transform="translate(85.50,159.98) scale(0.9063,1)" font-size="45.71" font-weight="bold" fill="#000" stroke="#000" stroke-width="0.35">0.25</text>
<text transform="translate(85.50,38.70) scale(0.9063,1)" font-size="45.71" font-weight="bold" fill="#000" stroke="#000" stroke-width="0.35">0.30</text>
<text transform="translate(171.70,810.30) scale(0.8926,1)" font-size="44.81" font-weight="bold" fill="#000" stroke="#000" stroke-width="0.35">0</text>
<text transform="translate(387.85,810.30) scale(0.8926,1)" font-size="44.81" font-weight="bold" fill="#000" stroke="#000" stroke-width="0.35">50</text>
<text transform="translate(604.50,810.30) scale(0.8777,1)" font-size="44.81" font-weight="bold" fill="#000" stroke="#000" stroke-width="0.35">100</text>
<text transform="translate(830.65,810.30) scale(0.8777,1)" font-size="44.81" font-weight="bold" fill="#000" stroke="#000" stroke-width="0.35">150</text>
<text transform="translate(1056.05,810.30) scale(0.9001,1)" font-size="44.81" font-weight="bold" fill="#000" stroke="#000" stroke-width="0.35">200</text>
<text transform="translate(491.80,867.30) scale(0.9907,1)" font-size="61.93" font-weight="bold" fill="#000" stroke="#000" stroke-width="0.35">Strain (%)</text>
<text transform="translate(55,591.5) rotate(-90) translate(0.00,0.00) scale(0.9598,1)" font-size="64.95" font-weight="bold" fill="#000" stroke="#000" stroke-width="0.35">Stress (MPa)</text>
<text transform="translate(320.20,147.90) scale(0.9780,1)" font-size="54.96" font-weight="normal" fill="#000" stroke="#000" stroke-width="0.6">Fracture</text>
<text transform="translate(383.00,264.10) scale(0.9818,1)" font-size="54.96" font-weight="normal" fill="#000" stroke="#000" stroke-width="0.6">Fracture</text>
<text transform="translate(695.50,399.40) scale(0.9635,1)" font-size="55.27" font-weight="normal" fill="#000" stroke="#000" stroke-width="0.6">No Fracture</text>
<text transform="translate(712.30,654.80) scale(0.9679,1)" font-size="55.42" font-weight="normal" fill="#000" stroke="#000" stroke-width="0.6">No Fracture</text>
<rect x="656.9" y="24.8" width="429.4" height="192.2" fill="#fff" stroke="#3a3a3a" stroke-width="2.4"/>
<line x1="656" y1="24.8" x2="1086.3" y2="24.8" stroke="#1c1c1c" stroke-width="3.6"/>
<line x1="1086.3" y1="24.8" x2="1086.3" y2="219" stroke="#1c1c1c" stroke-width="3.6"/>
<circle cx="703.5" cy="47.4" r="20.8" fill="#fa32d7"/>
<text transform="translate(756.50,64.60) scale(0.9088,1)" font-size="41.53" font-weight="normal" fill="#111" stroke="#111" stroke-width="0.6">Eco50/Ag(1.2:3.0)</text>
<circle cx="703.5" cy="100" r="20.8" fill="#2df564"/>
<text transform="translate(756.50,111.60) scale(0.9093,1)" font-size="41.53" font-weight="normal" fill="#111" stroke="#111" stroke-width="0.6">Eco50/V-Ag(1.2:3.0)</text>
<circle cx="703.5" cy="148.2" r="20.8" fill="#f07d32"/>
<text transform="translate(756.50,158.80) scale(0.9093,1)" font-size="41.53" font-weight="normal" fill="#111" stroke="#111" stroke-width="0.6">Eco50/V-Ag(1.2:3.5)</text>
<circle cx="703.5" cy="195.7" r="20.8" fill="#961e1e"/>
<text transform="translate(756.50,205.10) scale(0.9093,1)" font-size="41.53" font-weight="normal" fill="#111" stroke="#111" stroke-width="0.6">Eco50/V-Ag(1.2:4.0)</text>
</svg>
</body></html>
